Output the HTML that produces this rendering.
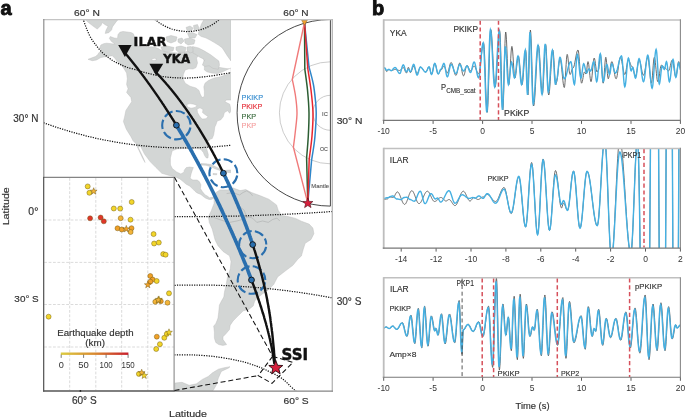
<!DOCTYPE html>
<html><head><meta charset="utf-8"><title>Figure</title>
<style>html,body{margin:0;padding:0;background:#fff;}svg{display:block;}text{font-family:"Liberation Sans", Arial, sans-serif;}</style>
</head><body>
<svg width="685" height="417" viewBox="0 0 685 417">
<rect width="685" height="417" fill="#fff"/>
<text x="0.6" y="14.6" font-size="20" text-anchor="start" font-weight="bold" fill="#111" stroke="#111" stroke-width="0.9">a</text>
<defs><clipPath id="mapclip"><rect x="43.5" y="19.5" width="289" height="371.5"/></clipPath><linearGradient id="cbar" x1="0" x2="1" y1="0" y2="0"><stop offset="0" stop-color="#dccc42"/><stop offset="0.5" stop-color="#d98a30"/><stop offset="1" stop-color="#c81e2c"/></linearGradient><clipPath id="c1"><rect x="383.7" y="19.9" width="296.7" height="100.5"/></clipPath><clipPath id="c2"><rect x="383.7" y="148.4" width="296.7" height="99.7"/></clipPath><clipPath id="c3"><rect x="383.7" y="277.8" width="296.7" height="99.5"/></clipPath></defs>
<g clip-path="url(#mapclip)">
<path d="M230.1,100 L226.2,100 L225,101.8 L227.4,103 L229.8,104.2 L231,110.2 L229.8,113.2 L227.4,110.8 L224.4,112.6 L223.2,116.8 L220.8,119.8 L217.2,121 L216,124.6 L214.8,127 L214.2,131.8 L213.6,135 L212.2,138.6 L210.4,139 L207.7,142 L206.8,145.9 L207,150 L208.3,154.5 L208,158 L206.4,158 L204.6,155.5 L203.4,152.5 L201,149.6 L199.8,149 L195,148.6 L189,148.4 L183,148.6 L177,149 L172.2,150.8 L171.6,153.2 L170.4,158 L170.4,162.8 L170.5,165 L172.3,168.6 L176.6,171.9 L180.9,174 L184.2,171.9 L184.2,170.2 L186.3,167.6 L189.6,167 L193.4,167.6 L192.3,170.2 L191.2,173.5 L190.1,178.3 L192.8,180 L197.1,180 L199.3,181.6 L200.9,184.8 L200.4,188.6 L202.5,191.8 L205.2,195 L207.4,196.1 L209.5,197.8 L212,197.3 L214.5,196.3 L214.2,198.3 L211,199.5 L209,199.4 L205.8,198.3 L203.6,196.7 L200.9,194.5 L197.1,192.9 L195,191.3 L192.8,189.1 L189.6,185.9 L186.3,184.3 L183.1,181.6 L179.9,178.9 L174.5,176.5 L169.5,175.5 L161.8,173.3 L156,167.6 L150.3,161.8 L144.5,154.1 L140.7,146.5 L138,147 L140.5,152 L144,159.5 L145,162.5 L142.5,158 L139,150.5 L135.9,143.6 L133,140.7 L131.1,136.9 L126.3,129.2 L123.4,121.5 L124.4,117.7 L125.9,110.4 L128.8,106 L131.7,101.7 L130.9,97.4 L126.6,92.4 L128.1,88.8 L126.6,84.5 L127.3,78.7 L126.6,73 L123,67.2 L116.7,60.7 L115.1,58.6 L112.3,55.7 L106.5,56.6 L100.8,57.5 L96.6,60 L92.3,60.7 L88,59.3 L92,57.8 L95.5,56.5 L97.9,54.5 L98.8,52.8 L101.7,50.9 L99.8,48 L100.8,45.1 L103.6,43.7 L106.5,43.2 L111.3,43.7 L115.1,44.2 L111.3,41.3 L109.4,38.4 L110.3,36.5 L114.2,38 L117.5,38.4 L118,34.6 L119.9,32.2 L123,31.5 L126.8,31.9 L131.1,32.6 L133.4,33.8 L135,38 L136,43 L138,46 L141.8,47.2 L147.2,47.6 L151.1,46.8 L154.9,47.2 L158.8,48.8 L161.1,50.3 L164.2,51.1 L170,52.5 L178,53 L185,52 L190,50.5 L194,52 L199,56 L204,60 L208,64 L212,66 L220,67.5 L226,68.5 L231,69 L235,69 L235,100 Z" fill="#d3d6d5" stroke="#b8b8b8" stroke-width="0.4"/>
<path d="M214.1,193.8 L219.9,189.9 L227.6,189.9 L233.3,188 L240,190.6 L245.8,189.6 L251.5,192.5 L259.2,195.3 L268.8,199.2 L276.5,204.9 L278.4,210.7 L282.2,215.5 L288,216.5 L295.6,218.4 L301.4,221.2 L309.1,224.1 L312.9,228 L313.9,233.7 L311,239.5 L305.2,243.3 L303.3,249.1 L301.4,256 L298,259 L292.9,265.3 L285.2,271.1 L277.6,276.9 L273.7,284.5 L268,290.3 L262.2,294.1 L257,298.5 L254.7,301 L253.2,306 L248.9,309.4 L243.2,310.8 L240.3,313.7 L237.4,316.6 L233.1,320.9 L230.2,325.2 L229.5,329.5 L225.9,333.8 L223,336.7 L223,339.6 L226.6,344.6 L223,345.4 L218.7,344.6 L215.8,342.5 L214.4,338.2 L214.4,332.4 L213.7,325.9 L215.8,323.8 L218,318 L218.7,312.3 L219.4,305.1 L221.6,300.8 L223.8,297 L224.5,291.8 L225.9,286 L227.4,277.4 L230.3,268.8 L231,261.6 L229.5,255.8 L223.1,251.5 L218,245.8 L215.1,240 L212.2,229 L209.3,222.6 L208.4,216.8 L211.2,211 L214.1,203.4 L214.1,196.5 Z" fill="#d3d6d5" stroke="#b8b8b8" stroke-width="0.4"/>
<path d="M175,383 L182,382.3 L189.2,385.3 L196.5,383.8 L202.3,379.4 L208.2,376.5 L212.5,372.8 L218.4,369.2 L224.2,367.7 L230,366.7 L228.6,368 L221.3,371.4 L218.4,378 L216.2,385.3 L212.5,391.5 L175,391.5 Z" fill="#d3d6d5" stroke="#b8b8b8" stroke-width="0.4"/>
<path d="M85.1,19.5 L89.4,23.3 L95.1,27.6 L97.3,29.1 L100.9,25.5 L102.3,22.6 L105.2,24.8 L108.1,26.2 L105.9,30.5 L105.2,33.4 L108.8,32.7 L111.7,29.8 L112.4,26.9 L116,21.9 L118.2,19.5 Z" fill="#d3d6d5" stroke="#b8b8b8" stroke-width="0.4"/>
<path d="M204,19.5 L231,19.5 L231,61 L229.9,59.5 L227.2,55.7 L224.5,51.4 L222.3,47.9 L218.8,45.3 L214.4,42.6 L210,40 L205.6,37.8 L201.3,36.5 L198.2,34.3 L199.5,29.5 L201.3,24.3 Z" fill="#d3d6d5" stroke="#b8b8b8" stroke-width="0.4"/>
<path d="M201,163.6 L206,163.8 L211,164.5 L214,166 L219,168.4 L222.5,169.8 L220,170.5 L215,168.8 L211,166.8 L206,165.3 L201,165 Z" fill="#d3d6d5" stroke="#b8b8b8" stroke-width="0.4"/>
<path d="M225.7,170.3 L230,170 L234.8,171.3 L233.5,172.8 L228,172.5 L225.5,171.6 Z" fill="#d3d6d5" stroke="#b8b8b8" stroke-width="0.4"/>
<path d="M213,173.5 L217,173.7 L216.5,174.8 L213,174.6 Z" fill="#d3d6d5" stroke="#b8b8b8" stroke-width="0.4"/>
<path d="M237,172 L239.5,172.2 L239.3,173 L237,172.9 Z" fill="#d3d6d5" stroke="#b8b8b8" stroke-width="0.4"/>
<path d="M182.8,78.4 L183.4,74.2 L185.2,70 L189,68.8 L193,69 L196,67.6 L197.5,63 L196.5,58 L199.6,54.4 L203.2,56.8 L204,61 L204.4,66 L204.4,70 L206.8,71.8 L211.6,73 L217.6,73.6 L222,72 L231,68 L231,72.5 L224,75.5 L218.8,77.2 L215.2,77.8 L211.6,79 L208,80.8 L205,83.2 L203.8,86.8 L204.4,91.6 L204.4,96.4 L202,97.6 L200.2,94 L199,90.4 L196,88 L190,86.2 L185.2,83.2 Z" fill="#fff" stroke="#b8b8b8" stroke-width="0.4"/>
<path d="M186.8,104.5 L190,103.6 L194,104.2 L197,105.5 L195,107.5 L191,108.2 L187.5,107 Z" fill="#fff" stroke="#b8b8b8" stroke-width="0.4"/>
<path d="M197,109 L200,107.8 L203,109.5 L202.5,112.5 L205,114.5 L208,116.5 L206,118.8 L202,119 L199.5,116 L197.5,112.5 Z" fill="#fff" stroke="#b8b8b8" stroke-width="0.4"/>
<path d="M152,58.8 L155,58.2 L157,59.5 L154,60.5 L151.5,60 Z" fill="#fff" stroke="#b8b8b8" stroke-width="0.4"/>
<path d="M209.3,216 L214,217.5 L219.4,219.5 L224,221 L229.5,222.4 L236.7,221 L242.4,219.5 L248.2,216.7 L252.5,218.1 L256.8,222.4 L262.6,221 L268.3,222.4 L272.6,219.5 L277,218.1 L279.8,221" fill="none" stroke="#a9abab" stroke-width="0.55"/>
<path d="M226.6,193.6 L230,193 L233.8,192.9 L239.5,195 L243,192.5 L246.7,190.8 L251,193.6 L252.5,195.8" fill="none" stroke="#a9abab" stroke-width="0.55"/>
<path d="M233.8,192.9 L234.5,198 L236,203 L240,207 L244,210 L246,215 L248.2,216.7" fill="none" stroke="#a9abab" stroke-width="0.55"/>
<path d="M192.5,46.5 L198.5,47.9 L203.7,50.6 L210.3,54.5 L215.6,58.5 L218.9,61.1 L219.5,65 L218.3,69.3 L213,68.4 L209,65.7 L205,66.4 L202.4,65.1 L203.7,61.8 L205,59.8 L199.8,57.2 L195.8,54.5 L193.2,53.2 L192,49.5 Z" fill="#d3d6d5" stroke="#b8b8b8" stroke-width="0.4"/>
<path d="M186,27.5 L190,26 L193,28 L191.5,31 L187.5,31.5 Z" fill="#d3d6d5" stroke="#b8b8b8" stroke-width="0.4"/>
<path d="M193.5,25.5 L197.5,24.5 L199,28 L196.5,31 L194,29.5 Z" fill="#d3d6d5" stroke="#b8b8b8" stroke-width="0.4"/>
<path d="M187.5,33.5 L192,32.5 L197,34.5 L195,38 L189.5,38 Z" fill="#d3d6d5" stroke="#b8b8b8" stroke-width="0.4"/>
<path d="M166,37 L171,35.5 L177,37 L176,41 L171,43 L167,41.5 Z" fill="#d3d6d5" stroke="#b8b8b8" stroke-width="0.4"/>
<path d="M178,39 L182,38 L184,41 L181,44 L178,42 Z" fill="#d3d6d5" stroke="#b8b8b8" stroke-width="0.4"/>
<path d="M184.5,39 L190,38 L195,40 L194,44 L188,45 L185,43 Z" fill="#d3d6d5" stroke="#b8b8b8" stroke-width="0.4"/>
<path d="M161,47 L167,46 L174,47.5 L173,51 L166,52 L162,50 Z" fill="#d3d6d5" stroke="#b8b8b8" stroke-width="0.4"/>
<path d="M176,47 L181,46 L186,47.5 L185,52 L179,52.6 L176,50 Z" fill="#d3d6d5" stroke="#b8b8b8" stroke-width="0.4"/>
<path d="M187,47 L191,46.5 L193,48 L193,52 L190,53 L187,50.5 Z" fill="#d3d6d5" stroke="#b8b8b8" stroke-width="0.4"/>
<path d="M82.9,18.5 C83.4,19.9 84.7,23.9 85.9,26.9 C87.1,29.8 88.4,33.3 89.9,36.2 C91.5,39.1 93.2,41.5 95.2,44.1 C97.2,46.7 99.3,49.6 101.7,52 C104.1,54.4 107.1,56.7 109.7,58.6 C112.3,60.5 114.8,61.8 117.6,63.2 C120.4,64.6 123.4,66 126.8,67.2 C130.2,68.4 134.9,69.4 138,70.3 C141.1,71.2 141.5,71.6 145.3,72.6 C149.1,73.6 155.6,75.3 160.7,76.2 C165.8,77.1 170.9,77.5 176,77.8 C181.1,78.1 186.2,78.1 191.3,77.9 C196.4,77.7 201.6,77.1 206.7,76.5 C211.8,75.9 217.9,74.9 222,74.2 C226.1,73.5 229.7,72.9 231.2,72.6" stroke="#111" stroke-width="1.25" stroke-dasharray="1.2 1.25" fill="none"/>
<path d="M153,17.5 L154.2,18.6 L155.3,19.7 L156.5,20.6 L157.7,21.6 L158.8,22.4 L160,23.2 L161.2,24 L162.4,24.7 L163.5,25.4 L164.7,26 L165.9,26.6 L167,27.1 L168.2,27.6 L169.4,28.1 L170.5,28.6 L171.7,29 L172.9,29.3 L174.1,29.7 L175.2,30 L176.4,30.3 L177.6,30.5 L178.7,30.7 L179.9,30.9 L181.1,31.1 L182.2,31.2 L183.4,31.3 L184.6,31.4 L185.7,31.5 L186.9,31.5 L188.1,31.5 L189.3,31.5 L190.4,31.4 L191.6,31.3 L192.8,31.2 L193.9,31.1 L195.1,30.9 L196.3,30.7 L197.4,30.4 L198.6,30.2 L199.8,29.9 L200.9,29.6 L202.1,29.2 L203.3,28.8 L204.5,28.4 L205.6,28 L206.8,27.5 L208,26.9 L209.1,26.4 L210.3,25.8 L211.5,25.1 L212.6,24.5 L213.8,23.7 L215,23 L216.2,22.1 L217.3,21.3 L218.5,20.3 L219.7,19.3 L220.8,18.3 L222,17.1" stroke="#111" stroke-width="1.25" stroke-dasharray="1.2 1.25" fill="none"/>
<path d="M43.5,122.7 L46.7,123.9 L49.9,125 L53.1,126.1 L56.2,127.2 L59.4,128.2 L62.6,129.2 L65.8,130.2 L69,131.2 L72.2,132.1 L75.4,133 L78.6,133.9 L81.7,134.7 L84.9,135.6 L88.1,136.4 L91.3,137.1 L94.5,137.9 L97.7,138.6 L100.9,139.2 L104,139.9 L107.2,140.5 L110.4,141.1 L113.6,141.7 L116.8,142.3 L120,142.8 L123.2,143.3 L126.3,143.8 L129.5,144.2 L132.7,144.6 L135.9,145 L139.1,145.4 L142.3,145.7 L145.5,146 L148.7,146.3 L151.8,146.6 L155,146.8 L158.2,147.1 L161.4,147.3 L164.6,147.4 L167.8,147.6 L171,147.7 L174.1,147.8 L177.3,147.8 L180.5,147.9 L183.7,147.9 L186.9,147.9 L190.1,147.9 L193.3,147.8 L196.4,147.7 L199.6,147.6 L202.8,147.5 L206,147.3 L209.2,147.1 L212.4,146.9 L215.6,146.7 L218.8,146.4 L221.9,146.1 L225.1,145.8 L228.3,145.5 L231.5,145.1" stroke="#111" stroke-width="1.25" stroke-dasharray="1.2 1.25" fill="none"/>
<path d="M174.5,216.6 L177.2,216.6 L179.8,216.6 L182.5,216.6 L185.2,216.6 L187.8,216.6 L190.5,216.6 L193.2,216.6 L195.9,216.6 L198.5,216.6 L201.2,216.6 L203.9,216.5 L206.5,216.5 L209.2,216.5 L211.9,216.5 L214.5,216.4 L217.2,216.4 L219.9,216.4 L222.6,216.3 L225.2,216.3 L227.9,216.2 L230.6,216.2 L233.2,216.1 L235.9,216 L238.6,216 L241.2,215.9 L243.9,215.8 L246.6,215.8 L249.2,215.7 L251.9,215.6 L254.6,215.5 L257.3,215.4 L259.9,215.3 L262.6,215.2 L265.3,215.1 L267.9,215 L270.6,214.9 L273.3,214.8 L275.9,214.7 L278.6,214.6 L281.3,214.5 L283.9,214.3 L286.6,214.2 L289.3,214.1 L292,214 L294.6,213.8 L297.3,213.7 L300,213.5 L302.6,213.4 L305.3,213.2 L308,213.1 L310.6,212.9 L313.3,212.8 L316,212.6 L318.7,212.4 L321.3,212.3 L324,212.1 L326.7,211.9 L329.3,211.7 L332,211.5" stroke="#111" stroke-width="1.25" stroke-dasharray="1.2 1.25" fill="none"/>
<path d="M174.5,285.3 L177.2,285.2 L179.8,285.2 L182.5,285.1 L185.2,285.1 L187.8,285 L190.5,285 L193.2,285 L195.9,285 L198.5,285 L201.2,285 L203.9,285 L206.5,285.1 L209.2,285.1 L211.9,285.2 L214.5,285.2 L217.2,285.3 L219.9,285.4 L222.6,285.5 L225.2,285.6 L227.9,285.7 L230.6,285.8 L233.2,286 L235.9,286.1 L238.6,286.3 L241.2,286.4 L243.9,286.6 L246.6,286.8 L249.2,287 L251.9,287.2 L254.6,287.4 L257.3,287.6 L259.9,287.8 L262.6,288.1 L265.3,288.3 L267.9,288.6 L270.6,288.9 L273.3,289.1 L275.9,289.4 L278.6,289.7 L281.3,290 L283.9,290.4 L286.6,290.7 L289.3,291 L292,291.4 L294.6,291.7 L297.3,292.1 L300,292.5 L302.6,292.9 L305.3,293.3 L308,293.7 L310.6,294.1 L313.3,294.5 L316,295 L318.7,295.4 L321.3,295.9 L324,296.4 L326.7,296.9 L329.3,297.3 L332,297.8" stroke="#111" stroke-width="1.25" stroke-dasharray="1.2 1.25" fill="none"/>
<path d="M174.5,354.9 C177.4,354.9 185.5,354.7 191.7,354.9 C197.8,355.1 204.8,355.5 211.4,356.2 C218,356.9 225.6,358.2 231.1,359.2 C236.6,360.2 240.1,361 244.3,362.1 C248.5,363.2 253,364.9 256.1,366 C259.2,367.1 260.6,367.4 263,368.5 C265.4,369.6 267.9,371 270.6,372.3 C273.3,373.6 276.5,375 279,376.5 C281.5,378 283.7,379.8 285.7,381.5 C287.7,383.2 289.2,385.1 290.8,386.6 C292.4,388.1 294.1,389.6 295,390.4 C295.9,391.2 295.8,391.3 296,391.5" stroke="#111" stroke-width="1.25" stroke-dasharray="1.2 1.25" fill="none"/>
</g>
<rect x="231" y="19.5" width="100" height="165" fill="#fff"/>
<path d="M330.4,19.5 A93.3,93.3 0 0 0 330.4,206.1 Z" fill="#fff"/>
<path d="M330.4,61.8 A51,51 0 0 0 330.4,163.8" fill="none" stroke="#aaa" stroke-width="0.6"/>
<path d="M330.4,95.3 A17.5,17.5 0 0 0 330.4,130.3" fill="none" stroke="#aaa" stroke-width="0.6"/>
<path d="M330.4,19.5 A93.3,93.3 0 0 0 330.4,206.1 L330.4,19.5" fill="none" stroke="#333" stroke-width="0.9"/>
<path d="M304.5,22.5 L309,67 C309.8,70 312.4,79 313.5,85 C314.6,91 315.2,98.3 315.7,103 C316.1,107.7 316.2,109.7 316.2,113 C316.2,116.3 316.2,118.3 315.9,123 C315.6,127.7 315.2,134.8 314.5,141 C313.8,147.2 312.1,156.9 311.6,160.1 L307.8,203.2" fill="none" stroke="#2f86c9" stroke-width="1.5"/>
<path d="M304.5,22.5 L304.8,68.8 C305.2,72.3 306.8,82.6 307.5,90 C308.2,97.4 308.9,105.3 309,113 C309.1,120.7 308.7,128.5 308.3,136 C307.9,143.5 306.9,154.2 306.6,157.9 L307.8,203.2" fill="none" stroke="#2c5e33" stroke-width="1.5"/>
<path d="M304.5,22.5 L307.8,68.5 C308.3,72.1 310.1,82.6 311,90 C311.9,97.4 312.8,105.3 313,113 C313.2,120.7 312.6,128.3 312,136 C311.4,143.7 309.7,155.2 309.2,159.1 L307.8,203.2" fill="none" stroke="#e8262e" stroke-width="1.5"/>
<path d="M304.5,22.5 L292.3,79.3 C292.8,82.1 294.7,90.4 295.5,96 C296.3,101.6 297,107.3 297,113 C297,118.7 296.1,124.3 295.5,130 C294.9,135.7 293.8,144.3 293.4,147.2 L307.8,203.2" fill="none" stroke="#f07a7a" stroke-width="1.4"/>
<path d="M301.6,20.3 L307.4,20.3 L304.5,25.3 Z" fill="#f0a030" stroke="#6a4a10" stroke-width="0.4"/>
<path d="M307.8,197.8 L309.1,201.4 L312.9,201.5 L310,203.9 L311,207.6 L307.8,205.5 L304.6,207.6 L305.6,203.9 L302.7,201.5 L306.5,201.4 Z" fill="#d61f3c" stroke="#4a0a14" stroke-width="0.6"/>
<text x="241.54" y="99.60" font-size="7.54" font-weight="normal" fill="#3a8fd0" stroke="#3a8fd0" stroke-width="0.14" textLength="21.63" lengthAdjust="spacingAndGlyphs">PKIKP</text>
<text x="241.54" y="108.90" font-size="7.40" font-weight="normal" fill="#e5303a" stroke="#e5303a" stroke-width="0.13" textLength="20.62" lengthAdjust="spacingAndGlyphs">PKiKP</text>
<text x="241.55" y="118.80" font-size="7.12" font-weight="normal" fill="#3a6b3e" stroke="#3a6b3e" stroke-width="0.13" textLength="14.60" lengthAdjust="spacingAndGlyphs">PKP</text>
<text x="241.55" y="128.30" font-size="7.12" font-weight="normal" fill="#f4a0a0" stroke="#f4a0a0" stroke-width="0.13" textLength="14.60" lengthAdjust="spacingAndGlyphs">PKP</text>
<text x="322.11" y="115.90" font-size="5.31" font-weight="normal" fill="#555" stroke="#555" stroke-width="0.10" textLength="5.77" lengthAdjust="spacingAndGlyphs">IC</text>
<text x="319.90" y="150.80" font-size="5.59" font-weight="normal" fill="#555" stroke="#555" stroke-width="0.10" textLength="7.99" lengthAdjust="spacingAndGlyphs">OC</text>
<text x="311.29" y="188.20" font-size="6.01" font-weight="normal" fill="#555" stroke="#555" stroke-width="0.11" textLength="17.72" lengthAdjust="spacingAndGlyphs">Mantle</text>
<line x1="43.2" y1="19.7" x2="332.9" y2="19.7" stroke="#c4c4c4" stroke-width="1.3"/>
<line x1="43.8" y1="19.1" x2="43.8" y2="391.8" stroke="#8f8f8f" stroke-width="1.2"/>
<line x1="332.3" y1="19.1" x2="332.3" y2="391.8" stroke="#b9b9b9" stroke-width="1.4"/>
<line x1="43.2" y1="391.2" x2="332.9" y2="391.2" stroke="#858585" stroke-width="1.3"/>
<circle cx="176.4" cy="125.2" r="14.2" fill="none" stroke="#2a6fae" stroke-width="2.1" stroke-dasharray="9.4 3.3" stroke-dashoffset="10.3"/>
<circle cx="223.4" cy="173.2" r="14" fill="none" stroke="#2a6fae" stroke-width="2.1" stroke-dasharray="9.4 3.3" stroke-dashoffset="10.3"/>
<circle cx="252.7" cy="244.6" r="13.6" fill="none" stroke="#2a6fae" stroke-width="2.1" stroke-dasharray="9.4 3.3" stroke-dashoffset="10.3"/>
<circle cx="251.5" cy="280.0" r="13.8" fill="none" stroke="#2a6fae" stroke-width="2.1" stroke-dasharray="9.4 3.3" stroke-dashoffset="10.3"/>
<path d="M123.4,51 L124.3,52 L125.1,53 L125.9,54 L126.7,55 L127.6,56 L128.4,57 L129.2,58 L130,59 L130.8,60 L131.6,61 L132.4,62 L133.2,63 L134,64 L134.8,65 L135.6,66 L136.4,67 L137.2,68 L137.9,69 L138.7,70.1 L139.5,71.1 L140.2,72.1 L141,73.1 L141.8,74.1 L142.5,75.1 L143.3,76.1 L144,77.1 L144.8,78.1 L145.5,79.1 L146.2,80.1 L147,81.1 L147.7,82.1 L148.4,83.1 L149.1,84.1 L149.9,85.1 L150.6,86.1 L151.3,87.1 L152,88.1 L152.7,89.1 L153.4,90.1 L154.1,91.1 L154.8,92.1 L155.5,93.1 L156.2,94.1 L156.9,95.1 L157.6,96.1 L158.3,97.1 L159,98.1 L159.6,99.1 L160.3,100.1 L161,101.1 L161.7,102.1 L162.3,103.1 L163,104.1 L163.7,105.1 L164.3,106.1 L165,107.2 L165.6,108.2 L166.3,109.2 L166.9,110.2 L167.6,111.2 L168.2,112.2 L168.9,113.2 L169.5,114.2 L170.1,115.2 L170.8,116.2 L171.4,117.2 L172,118.2 L172.7,119.2 L173.3,120.2 L173.9,121.2 L174.5,122.2 L175.1,123.2 L175.8,124.2 L176.4,125.2" fill="none" stroke="#111" stroke-width="2.4"/>
<path d="M154.6,71 L155.6,72 L156.6,73 L157.5,74 L158.5,75 L159.4,76 L160.3,77 L161.2,78 L162.1,79 L163,80 L163.9,81 L164.8,82 L165.7,83 L166.5,84 L167.4,85 L168.3,86 L169.1,87 L169.9,88 L170.8,89 L171.6,90 L172.4,91 L173.2,92 L174,93 L174.8,94 L175.6,95 L176.4,96 L177.2,97.1 L178,98.1 L178.7,99.1 L179.5,100.1 L180.2,101.1 L181,102.1 L181.7,103.1 L182.5,104.1 L183.2,105.1 L183.9,106.1 L184.6,107.1 L185.4,108.1 L186.1,109.1 L186.8,110.1 L187.5,111.1 L188.2,112.1 L188.9,113.1 L189.5,114.1 L190.2,115.1 L190.9,116.1 L191.6,117.1 L192.2,118.1 L192.9,119.1 L193.6,120.1 L194.2,121.1 L194.9,122.1 L195.5,123.1 L196.1,124.1 L196.8,125.1 L197.4,126.1 L198,127.1 L198.7,128.1 L199.3,129.1 L199.9,130.1 L200.5,131.1 L201.1,132.1 L201.7,133.1 L202.3,134.1 L202.9,135.1 L203.5,136.1 L204.1,137.1 L204.7,138.1 L205.3,139.1 L205.9,140.1 L206.5,141.1 L207,142.1 L207.6,143.1 L208.2,144.1 L208.7,145.1 L209.3,146.1 L209.9,147.1 L210.4,148.2 L211,149.2 L211.5,150.2 L212.1,151.2 L212.6,152.2 L213.2,153.2 L213.7,154.2 L214.2,155.2 L214.8,156.2 L215.3,157.2 L215.8,158.2 L216.4,159.2 L216.9,160.2 L217.4,161.2 L217.9,162.2 L218.4,163.2 L218.9,164.2 L219.5,165.2 L220,166.2 L220.5,167.2 L221,168.2 L221.5,169.2 L222,170.2 L222.5,171.2 L223,172.2 L223.4,173.2" fill="none" stroke="#111" stroke-width="2.4"/>
<path d="M251.5,280 L251.9,281 L252.3,282 L252.6,283 L253,284 L253.4,285 L253.7,286 L254.1,287 L254.5,288 L254.8,289 L255.2,290 L255.5,291 L255.9,292 L256.3,293 L256.6,294 L257,295 L257.3,296 L257.6,297 L258,298 L258.3,299 L258.7,300 L259,301 L259.3,302 L259.7,303 L260,304 L260.3,305 L260.6,306 L261,307 L261.3,308 L261.6,309 L261.9,310 L262.2,311 L262.5,312 L262.8,313 L263.2,314 L263.5,315 L263.8,316 L264.1,317 L264.3,318 L264.6,319 L264.9,320 L265.2,321 L265.5,322 L265.8,323 L266.1,324 L266.3,325 L266.6,326 L266.9,327 L267.1,328 L267.4,329 L267.7,330 L267.9,331 L268.2,332 L268.4,333 L268.7,334 L268.9,335 L269.2,336 L269.4,337 L269.6,338 L269.9,339 L270.1,340 L270.3,341 L270.5,342 L270.7,343 L271,344 L271.2,345 L271.4,346 L271.6,347 L271.8,348 L272,349 L272.2,350 L272.3,351 L272.5,352 L272.7,353 L272.9,354 L273,355 L273.2,356 L273.4,357 L273.5,358 L273.7,359 L273.8,360 L274,361 L274.1,362 L274.3,363 L274.4,364" fill="none" stroke="#111" stroke-width="2.4"/>
<path d="M252.7,244.6 L253,245.6 L253.4,246.6 L253.7,247.6 L254,248.6 L254.3,249.6 L254.7,250.6 L255,251.6 L255.3,252.6 L255.6,253.6 L255.9,254.6 L256.2,255.6 L256.5,256.6 L256.8,257.6 L257.1,258.6 L257.4,259.7 L257.7,260.7 L258,261.7 L258.3,262.7 L258.6,263.7 L258.9,264.7 L259.1,265.7 L259.4,266.7 L259.7,267.7 L260,268.7 L260.2,269.7 L260.5,270.7 L260.8,271.7 L261,272.7 L261.3,273.7 L261.5,274.7 L261.8,275.7 L262.1,276.7 L262.3,277.7 L262.6,278.7 L262.8,279.7 L263,280.7 L263.3,281.7 L263.5,282.7 L263.8,283.7 L264,284.7 L264.2,285.7 L264.4,286.7 L264.7,287.7 L264.9,288.7 L265.1,289.8 L265.3,290.8 L265.5,291.8 L265.8,292.8 L266,293.8 L266.2,294.8 L266.4,295.8 L266.6,296.8 L266.8,297.8 L267,298.8 L267.2,299.8 L267.3,300.8 L267.5,301.8 L267.7,302.8 L267.9,303.8 L268.1,304.8 L268.3,305.8 L268.4,306.8 L268.6,307.8 L268.8,308.8 L269,309.8 L269.1,310.8 L269.3,311.8 L269.4,312.8 L269.6,313.8 L269.8,314.8 L269.9,315.8 L270.1,316.8 L270.2,317.8 L270.4,318.8 L270.5,319.9 L270.6,320.9 L270.8,321.9 L270.9,322.9 L271.1,323.9 L271.2,324.9 L271.3,325.9 L271.4,326.9 L271.6,327.9 L271.7,328.9 L271.8,329.9 L271.9,330.9 L272.1,331.9 L272.2,332.9 L272.3,333.9 L272.4,334.9 L272.5,335.9 L272.6,336.9 L272.7,337.9 L272.8,338.9 L272.9,339.9 L273,340.9 L273.1,341.9 L273.2,342.9 L273.3,343.9 L273.4,344.9 L273.5,345.9 L273.6,346.9 L273.7,347.9 L273.8,348.9 L273.9,350 L274,351 L274,352 L274.1,353 L274.2,354 L274.3,355 L274.4,356 L274.4,357 L274.5,358 L274.6,359 L274.7,360 L274.7,361 L274.8,362 L274.9,363 L275,364" fill="none" stroke="#111" stroke-width="2.4"/>
<path d="M176.4,125.2 L177,126.2 L177.6,127.2 L178.2,128.2 L178.8,129.2 L179.4,130.2 L180,131.2 L180.6,132.2 L181.2,133.2 L181.8,134.2 L182.4,135.3 L183,136.3 L183.6,137.3 L184.2,138.3 L184.7,139.3 L185.3,140.3 L185.9,141.3 L186.5,142.3 L187.1,143.3 L187.6,144.3 L188.2,145.3 L188.8,146.3 L189.3,147.3 L189.9,148.3 L190.5,149.3 L191,150.3 L191.6,151.3 L192.2,152.3 L192.7,153.3 L193.3,154.4 L193.8,155.4 L194.4,156.4 L194.9,157.4 L195.5,158.4 L196,159.4 L196.6,160.4 L197.1,161.4 L197.7,162.4 L198.2,163.4 L198.7,164.4 L199.3,165.4 L199.8,166.4 L200.3,167.4 L200.9,168.4 L201.4,169.4 L201.9,170.4 L202.5,171.4 L203,172.4 L203.5,173.4 L204,174.5 L204.6,175.5 L205.1,176.5 L205.6,177.5 L206.1,178.5 L206.6,179.5 L207.1,180.5 L207.7,181.5 L208.2,182.5 L208.7,183.5 L209.2,184.5 L209.7,185.5 L210.2,186.5 L210.7,187.5 L211.2,188.5 L211.7,189.5 L212.2,190.5 L212.7,191.5 L213.2,192.5 L213.7,193.6 L214.2,194.6 L214.7,195.6 L215.2,196.6 L215.7,197.6 L216.2,198.6 L216.7,199.6 L217.1,200.6 L217.6,201.6 L218.1,202.6 L218.6,203.6 L219.1,204.6 L219.6,205.6 L220,206.6 L220.5,207.6 L221,208.6 L221.5,209.6 L221.9,210.6 L222.4,211.6 L222.9,212.7 L223.4,213.7 L223.8,214.7 L224.3,215.7 L224.8,216.7 L225.2,217.7 L225.7,218.7 L226.2,219.7 L226.6,220.7 L227.1,221.7 L227.5,222.7 L228,223.7 L228.5,224.7 L228.9,225.7 L229.4,226.7 L229.8,227.7 L230.3,228.7 L230.7,229.7 L231.2,230.7 L231.6,231.8 L232.1,232.8 L232.5,233.8 L233,234.8 L233.4,235.8 L233.8,236.8 L234.3,237.8 L234.7,238.8 L235.2,239.8 L235.6,240.8 L236,241.8 L236.5,242.8 L236.9,243.8 L237.3,244.8 L237.8,245.8 L238.2,246.8 L238.6,247.8 L239,248.8 L239.5,249.8 L239.9,250.8 L240.3,251.9 L240.7,252.9 L241.1,253.9 L241.6,254.9 L242,255.9 L242.4,256.9 L242.8,257.9 L243.2,258.9 L243.6,259.9 L244,260.9 L244.4,261.9 L244.9,262.9 L245.3,263.9 L245.7,264.9 L246.1,265.9 L246.5,266.9 L246.9,267.9 L247.3,268.9 L247.7,269.9 L248.1,271 L248.4,272 L248.8,273 L249.2,274 L249.6,275 L250,276 L250.4,277 L250.8,278 L251.1,279 L251.5,280" fill="none" stroke="#2a6fae" stroke-width="3.6"/>
<path d="M223.4,173.2 L223.9,174.2 L224.4,175.2 L224.9,176.2 L225.4,177.2 L225.9,178.2 L226.3,179.2 L226.8,180.2 L227.3,181.2 L227.8,182.3 L228.2,183.3 L228.7,184.3 L229.2,185.3 L229.6,186.3 L230.1,187.3 L230.6,188.3 L231,189.3 L231.5,190.3 L231.9,191.3 L232.4,192.3 L232.8,193.3 L233.3,194.3 L233.7,195.3 L234.1,196.3 L234.6,197.3 L235,198.3 L235.4,199.3 L235.9,200.4 L236.3,201.4 L236.7,202.4 L237.2,203.4 L237.6,204.4 L238,205.4 L238.4,206.4 L238.8,207.4 L239.3,208.4 L239.7,209.4 L240.1,210.4 L240.5,211.4 L240.9,212.4 L241.3,213.4 L241.7,214.4 L242.1,215.4 L242.5,216.4 L242.9,217.4 L243.3,218.5 L243.7,219.5 L244.1,220.5 L244.5,221.5 L244.8,222.5 L245.2,223.5 L245.6,224.5 L246,225.5 L246.4,226.5 L246.7,227.5 L247.1,228.5 L247.5,229.5 L247.8,230.5 L248.2,231.5 L248.6,232.5 L248.9,233.5 L249.3,234.5 L249.6,235.5 L250,236.6 L250.3,237.6 L250.7,238.6 L251,239.6 L251.4,240.6 L251.7,241.6 L252,242.6 L252.4,243.6 L252.7,244.6" fill="none" stroke="#2a6fae" stroke-width="3.6"/>
<circle cx="176.4" cy="125.2" r="2.9" fill="#2a6fae" stroke="#111" stroke-width="0.9"/>
<circle cx="223.4" cy="173.2" r="2.9" fill="#2a6fae" stroke="#111" stroke-width="0.9"/>
<circle cx="252.7" cy="244.6" r="2.9" fill="#2a6fae" stroke="#111" stroke-width="0.9"/>
<circle cx="251.5" cy="280.0" r="2.9" fill="#2a6fae" stroke="#111" stroke-width="0.9"/>
<path d="M118.2,45 L131.6,45 L124.9,57 Z" fill="#111"/>
<path d="M149.4,63.8 L163.2,63.8 L156.1,75.5 Z" fill="#111"/>
<text x="133.6" y="46.3" font-size="12.9" text-anchor="start" font-weight="bold" fill="#111" stroke="#111" stroke-width="0.45" style="font-family:'DejaVu Sans',sans-serif">ILAR</text>
<text x="163.3" y="63.1" font-size="11.8" text-anchor="start" font-weight="bold" fill="#111" stroke="#111" stroke-width="0.45" style="font-family:'DejaVu Sans',sans-serif">YKA</text>
<text x="281.5" y="360" font-size="15" text-anchor="start" font-weight="bold" fill="#111" stroke="#111" stroke-width="0.45" style="font-family:'DejaVu Sans',sans-serif">SSI</text>
<rect x="43.7" y="177.3" width="130.4" height="213.8" fill="#fff"/>
<line x1="69.7" y1="178" x2="69.7" y2="390.3" stroke="#cfcfcf" stroke-width="0.75" stroke-dasharray="2.8 1.6" fill="none"/>
<line x1="95.8" y1="178" x2="95.8" y2="390.3" stroke="#cfcfcf" stroke-width="0.75" stroke-dasharray="2.8 1.6" fill="none"/>
<line x1="121.7" y1="178" x2="121.7" y2="390.3" stroke="#cfcfcf" stroke-width="0.75" stroke-dasharray="2.8 1.6" fill="none"/>
<line x1="147.8" y1="178" x2="147.8" y2="390.3" stroke="#cfcfcf" stroke-width="0.75" stroke-dasharray="2.8 1.6" fill="none"/>
<line x1="44.2" y1="220" x2="174" y2="220" stroke="#cfcfcf" stroke-width="0.75" stroke-dasharray="2.8 1.6" fill="none"/>
<line x1="44.2" y1="262.4" x2="174" y2="262.4" stroke="#cfcfcf" stroke-width="0.75" stroke-dasharray="2.8 1.6" fill="none"/>
<line x1="44.2" y1="304.5" x2="174" y2="304.5" stroke="#cfcfcf" stroke-width="0.75" stroke-dasharray="2.8 1.6" fill="none"/>
<line x1="44.2" y1="347" x2="174" y2="347" stroke="#cfcfcf" stroke-width="0.75" stroke-dasharray="2.8 1.6" fill="none"/>
<circle cx="87.7" cy="186.4" r="2.5" fill="#f2d52a" stroke="#6b5410" stroke-width="0.45"/>
<circle cx="89.4" cy="192.8" r="2.5" fill="#f2d52a" stroke="#6b5410" stroke-width="0.45"/>
<circle cx="113.8" cy="208.5" r="2.5" fill="#f2d52a" stroke="#6b5410" stroke-width="0.45"/>
<circle cx="120.2" cy="208.6" r="2.5" fill="#f2d52a" stroke="#6b5410" stroke-width="0.45"/>
<circle cx="131.7" cy="202" r="2.5" fill="#f2d52a" stroke="#6b5410" stroke-width="0.45"/>
<circle cx="90.1" cy="218.3" r="2.5" fill="#e0362a" stroke="#6b5410" stroke-width="0.45"/>
<circle cx="100.6" cy="217.5" r="2.5" fill="#e0362a" stroke="#6b5410" stroke-width="0.45"/>
<circle cx="103.8" cy="221.3" r="2.5" fill="#e0362a" stroke="#6b5410" stroke-width="0.45"/>
<circle cx="120.7" cy="218.2" r="2.5" fill="#f3b43a" stroke="#6b5410" stroke-width="0.45"/>
<circle cx="130.5" cy="219.7" r="2.5" fill="#f2d52a" stroke="#6b5410" stroke-width="0.45"/>
<circle cx="117.5" cy="228.3" r="2.5" fill="#f0a028" stroke="#6b5410" stroke-width="0.45"/>
<circle cx="121.8" cy="229.5" r="2.5" fill="#f0a028" stroke="#6b5410" stroke-width="0.45"/>
<circle cx="131.5" cy="228.2" r="2.5" fill="#f0a028" stroke="#6b5410" stroke-width="0.45"/>
<circle cx="130.6" cy="232" r="2.5" fill="#f3b43a" stroke="#6b5410" stroke-width="0.45"/>
<circle cx="153.6" cy="234.1" r="2.5" fill="#f2d52a" stroke="#6b5410" stroke-width="0.45"/>
<circle cx="154.1" cy="243.5" r="2.5" fill="#f2d52a" stroke="#6b5410" stroke-width="0.45"/>
<circle cx="158.8" cy="242.6" r="2.5" fill="#f2d52a" stroke="#6b5410" stroke-width="0.45"/>
<circle cx="163.2" cy="254.1" r="2.5" fill="#f2d52a" stroke="#6b5410" stroke-width="0.45"/>
<circle cx="165.6" cy="254.7" r="2.5" fill="#f2d52a" stroke="#6b5410" stroke-width="0.45"/>
<circle cx="150.3" cy="276" r="2.5" fill="#f0a028" stroke="#6b5410" stroke-width="0.45"/>
<circle cx="152.7" cy="279.6" r="2.5" fill="#f0a028" stroke="#6b5410" stroke-width="0.45"/>
<circle cx="150.3" cy="281.7" r="2.5" fill="#f0a028" stroke="#6b5410" stroke-width="0.45"/>
<circle cx="156.7" cy="281" r="2.5" fill="#f2d52a" stroke="#6b5410" stroke-width="0.45"/>
<circle cx="169" cy="293.3" r="2.5" fill="#f2d52a" stroke="#6b5410" stroke-width="0.45"/>
<circle cx="155.3" cy="301.8" r="2.5" fill="#f3b43a" stroke="#6b5410" stroke-width="0.45"/>
<circle cx="160.8" cy="301.2" r="2.5" fill="#f0a028" stroke="#6b5410" stroke-width="0.45"/>
<circle cx="167.5" cy="302.7" r="2.5" fill="#f3b43a" stroke="#6b5410" stroke-width="0.45"/>
<circle cx="156.8" cy="336.7" r="2.5" fill="#f0a028" stroke="#6b5410" stroke-width="0.45"/>
<circle cx="164.3" cy="337.8" r="2.5" fill="#f2d52a" stroke="#6b5410" stroke-width="0.45"/>
<circle cx="159.9" cy="344.2" r="2.5" fill="#f2d52a" stroke="#6b5410" stroke-width="0.45"/>
<circle cx="156.2" cy="349" r="2.5" fill="#f2d52a" stroke="#6b5410" stroke-width="0.45"/>
<circle cx="138.9" cy="373.9" r="2.5" fill="#f2d52a" stroke="#6b5410" stroke-width="0.45"/>
<circle cx="48.6" cy="316.7" r="2.5" fill="#f2d52a" stroke="#6b5410" stroke-width="0.45"/>
<circle cx="166.8" cy="333.9" r="2.5" fill="#f2d52a" stroke="#6b5410" stroke-width="0.45"/>
<path d="M93.7,187.7 L94.6,190.1 L97.1,190.2 L95.1,191.8 L95.8,194.2 L93.7,192.8 L91.6,194.2 L92.3,191.8 L90.3,190.2 L92.8,190.1 Z" fill="#f3b43a" stroke="#6b5410" stroke-width="0.45"/>
<path d="M126.3,225.4 L127.2,227.8 L129.7,227.9 L127.7,229.5 L128.4,231.9 L126.3,230.5 L124.2,231.9 L124.9,229.5 L122.9,227.9 L125.4,227.8 Z" fill="#f0a028" stroke="#6b5410" stroke-width="0.45"/>
<path d="M147.8,281.3 L148.7,283.7 L151.2,283.8 L149.2,285.4 L149.9,287.8 L147.8,286.4 L145.7,287.8 L146.4,285.4 L144.4,283.8 L146.9,283.7 Z" fill="#f0a028" stroke="#6b5410" stroke-width="0.45"/>
<path d="M158.9,295.9 L159.8,298.3 L162.3,298.4 L160.3,300 L161,302.4 L158.9,301 L156.8,302.4 L157.5,300 L155.5,298.4 L158,298.3 Z" fill="#f2d52a" stroke="#6b5410" stroke-width="0.45"/>
<path d="M158.2,296.5 L159.1,298.9 L161.6,299 L159.6,300.6 L160.3,303 L158.2,301.6 L156.1,303 L156.8,300.6 L154.8,299 L157.3,298.9 Z" fill="#f3b43a" stroke="#6b5410" stroke-width="0.45"/>
<path d="M169,328.8 L169.9,331.2 L172.4,331.3 L170.4,332.9 L171.1,335.3 L169,333.9 L166.9,335.3 L167.6,332.9 L165.6,331.3 L168.1,331.2 Z" fill="#f2d52a" stroke="#6b5410" stroke-width="0.45"/>
<path d="M141.7,369.2 L142.6,371.6 L145.1,371.7 L143.1,373.3 L143.8,375.7 L141.7,374.3 L139.6,375.7 L140.3,373.3 L138.3,371.7 L140.8,371.6 Z" fill="#f3b43a" stroke="#6b5410" stroke-width="0.45"/>
<path d="M144.2,372 L145.1,374.4 L147.6,374.5 L145.6,376.1 L146.3,378.5 L144.2,377.1 L142.1,378.5 L142.8,376.1 L140.8,374.5 L143.3,374.4 Z" fill="#f2d52a" stroke="#6b5410" stroke-width="0.45"/>
<text x="57.26" y="336.40" font-size="9.78" font-weight="normal" fill="#333" stroke="#333" stroke-width="0.18" textLength="76.28" lengthAdjust="spacingAndGlyphs">Earthquake depth</text>
<text x="85.29" y="345.70" font-size="8.94" font-weight="normal" fill="#333" stroke="#333" stroke-width="0.16" textLength="19.63" lengthAdjust="spacingAndGlyphs">(km)</text>
<rect x="60.8" y="352.5" width="67.6" height="2.4" fill="url(#cbar)"/>
<line x1="61.2" y1="354.6" x2="61.2" y2="357.9" stroke="#444" stroke-width="0.7"/>
<text x="61.2" y="367.9" font-size="8.5" text-anchor="middle" font-weight="normal" fill="#333" textLength="5.1" lengthAdjust="spacingAndGlyphs">0</text>
<line x1="83.6" y1="354.6" x2="83.6" y2="357.9" stroke="#444" stroke-width="0.7"/>
<text x="83.6" y="367.9" font-size="8.5" text-anchor="middle" font-weight="normal" fill="#333" textLength="10.6" lengthAdjust="spacingAndGlyphs">50</text>
<line x1="106.1" y1="354.6" x2="106.1" y2="357.9" stroke="#444" stroke-width="0.7"/>
<text x="106.1" y="367.9" font-size="8.5" text-anchor="middle" font-weight="normal" fill="#333" textLength="13.2" lengthAdjust="spacingAndGlyphs">100</text>
<line x1="128.1" y1="354.6" x2="128.1" y2="357.9" stroke="#444" stroke-width="0.7"/>
<text x="128.1" y="367.9" font-size="8.5" text-anchor="middle" font-weight="normal" fill="#333" textLength="13.2" lengthAdjust="spacingAndGlyphs">150</text>
<line x1="43.2" y1="177.3" x2="174.6" y2="177.3" stroke="#555" stroke-width="0.9"/>
<line x1="174.1" y1="177" x2="174.1" y2="391.5" stroke="#888" stroke-width="1.1"/>
<line x1="43.7" y1="177" x2="43.7" y2="391.5" stroke="#555" stroke-width="1.2"/>
<line x1="43.2" y1="390.9" x2="174.6" y2="390.9" stroke="#555" stroke-width="1.3"/>
<circle cx="80.4" cy="390.9" r="0.9" fill="#222"/>
<path d="M174.5,177.3 L272.6,356.4" stroke="#111" stroke-width="1.05" stroke-dasharray="5 2.8" fill="none"/>
<path d="M174.5,390.5 L258.2,375.6" stroke="#111" stroke-width="1.05" stroke-dasharray="5 2.8" fill="none"/>
<path d="M272.6,356.4 L293,362.4 L272,383.4 L258.2,375.6 Z" stroke="#111" stroke-width="1.05" stroke-dasharray="5 2.8" fill="none"/>
<path d="M275.8,360.4 L277.6,365.3 L282.8,365.5 L278.8,368.8 L280.1,373.8 L275.8,370.9 L271.5,373.8 L272.8,368.8 L268.8,365.5 L274,365.3 Z" fill="#d61f3c" stroke="#2a0a10" stroke-width="0.9"/>
<text x="74.07" y="15.70" font-size="9.36" font-weight="normal" fill="#333" stroke="#333" stroke-width="0.17" textLength="25.76" lengthAdjust="spacingAndGlyphs">60° N</text>
<text x="283.36" y="15.80" font-size="9.64" font-weight="normal" fill="#333" stroke="#333" stroke-width="0.17" textLength="25.27" lengthAdjust="spacingAndGlyphs">60° N</text>
<text x="13.34" y="122.00" font-size="10.34" font-weight="normal" fill="#333" stroke="#333" stroke-width="0.19" textLength="25.02" lengthAdjust="spacingAndGlyphs">30° N</text>
<text x="336.65" y="124.10" font-size="9.92" font-weight="normal" fill="#333" stroke="#333" stroke-width="0.18" textLength="25.89" lengthAdjust="spacingAndGlyphs">30° N</text>
<text x="28.35" y="215.00" font-size="10.06" font-weight="normal" fill="#333" stroke="#333" stroke-width="0.18" textLength="10.00" lengthAdjust="spacingAndGlyphs">0°</text>
<text x="14.36" y="302.10" font-size="9.78" font-weight="normal" fill="#333" stroke="#333" stroke-width="0.18" textLength="24.38" lengthAdjust="spacingAndGlyphs">30° S</text>
<text x="336.65" y="305.30" font-size="10.06" font-weight="normal" fill="#333" stroke="#333" stroke-width="0.18" textLength="24.80" lengthAdjust="spacingAndGlyphs">30° S</text>
<text x="71.94" y="403.80" font-size="10.34" font-weight="normal" fill="#333" stroke="#333" stroke-width="0.19" textLength="24.72" lengthAdjust="spacingAndGlyphs">60° S</text>
<text x="283.48" y="403.90" font-size="9.22" font-weight="normal" fill="#333" stroke="#333" stroke-width="0.17" textLength="25.25" lengthAdjust="spacingAndGlyphs">60° S</text>
<text x="168.96" y="416.60" font-size="9.78" font-weight="normal" fill="#333" stroke="#333" stroke-width="0.18" textLength="38.08" lengthAdjust="spacingAndGlyphs">Latitude</text>
<g transform="translate(8.75,225) rotate(-90)"><text x="-0.35" y="0.00" font-size="9.92" font-weight="normal" fill="#333" stroke="#333" stroke-width="0.18" textLength="38.19" lengthAdjust="spacingAndGlyphs">Latitude</text></g>
<text x="372" y="14.8" font-size="20" text-anchor="start" font-weight="bold" fill="#111" stroke="#111" stroke-width="0.9">b</text>
<line x1="383.7" y1="120.4" x2="383.7" y2="123.9" stroke="#555" stroke-width="0.95"/>
<text x="383.7" y="134.1" font-size="8.5" text-anchor="middle" font-weight="normal" fill="#333" >-10</text>
<line x1="433.1" y1="120.4" x2="433.1" y2="123.9" stroke="#555" stroke-width="0.95"/>
<text x="433.1" y="134.1" font-size="8.5" text-anchor="middle" font-weight="normal" fill="#333" >-5</text>
<line x1="482.6" y1="120.4" x2="482.6" y2="123.9" stroke="#555" stroke-width="0.95"/>
<text x="482.6" y="134.1" font-size="8.5" text-anchor="middle" font-weight="normal" fill="#333" >0</text>
<line x1="532" y1="120.4" x2="532" y2="123.9" stroke="#555" stroke-width="0.95"/>
<text x="532" y="134.1" font-size="8.5" text-anchor="middle" font-weight="normal" fill="#333" >5</text>
<line x1="581.5" y1="120.4" x2="581.5" y2="123.9" stroke="#555" stroke-width="0.95"/>
<text x="581.5" y="134.1" font-size="8.5" text-anchor="middle" font-weight="normal" fill="#333" >10</text>
<line x1="631" y1="120.4" x2="631" y2="123.9" stroke="#555" stroke-width="0.95"/>
<text x="631" y="134.1" font-size="8.5" text-anchor="middle" font-weight="normal" fill="#333" >15</text>
<line x1="680.4" y1="120.4" x2="680.4" y2="123.9" stroke="#555" stroke-width="0.95"/>
<text x="680.4" y="134.1" font-size="8.5" text-anchor="middle" font-weight="normal" fill="#333" >20</text>
<line x1="401.2" y1="248.1" x2="401.2" y2="251.6" stroke="#555" stroke-width="0.95"/>
<text x="401.2" y="261.8" font-size="8.5" text-anchor="middle" font-weight="normal" fill="#333" >-14</text>
<line x1="436.1" y1="248.1" x2="436.1" y2="251.6" stroke="#555" stroke-width="0.95"/>
<text x="436.1" y="261.8" font-size="8.5" text-anchor="middle" font-weight="normal" fill="#333" >-12</text>
<line x1="471" y1="248.1" x2="471" y2="251.6" stroke="#555" stroke-width="0.95"/>
<text x="471" y="261.8" font-size="8.5" text-anchor="middle" font-weight="normal" fill="#333" >-10</text>
<line x1="505.9" y1="248.1" x2="505.9" y2="251.6" stroke="#555" stroke-width="0.95"/>
<text x="505.9" y="261.8" font-size="8.5" text-anchor="middle" font-weight="normal" fill="#333" >-8</text>
<line x1="540.8" y1="248.1" x2="540.8" y2="251.6" stroke="#555" stroke-width="0.95"/>
<text x="540.8" y="261.8" font-size="8.5" text-anchor="middle" font-weight="normal" fill="#333" >-6</text>
<line x1="575.7" y1="248.1" x2="575.7" y2="251.6" stroke="#555" stroke-width="0.95"/>
<text x="575.7" y="261.8" font-size="8.5" text-anchor="middle" font-weight="normal" fill="#333" >-4</text>
<line x1="610.6" y1="248.1" x2="610.6" y2="251.6" stroke="#555" stroke-width="0.95"/>
<text x="610.6" y="261.8" font-size="8.5" text-anchor="middle" font-weight="normal" fill="#333" >-2</text>
<line x1="645.5" y1="248.1" x2="645.5" y2="251.6" stroke="#555" stroke-width="0.95"/>
<text x="645.5" y="261.8" font-size="8.5" text-anchor="middle" font-weight="normal" fill="#333" >0</text>
<line x1="680.4" y1="248.1" x2="680.4" y2="251.6" stroke="#555" stroke-width="0.95"/>
<text x="680.4" y="261.8" font-size="8.5" text-anchor="middle" font-weight="normal" fill="#333" >2</text>
<line x1="383.7" y1="377.3" x2="383.7" y2="380.8" stroke="#555" stroke-width="0.95"/>
<text x="383.7" y="391" font-size="8.5" text-anchor="middle" font-weight="normal" fill="#333" >-10</text>
<line x1="433.1" y1="377.3" x2="433.1" y2="380.8" stroke="#555" stroke-width="0.95"/>
<text x="433.1" y="391" font-size="8.5" text-anchor="middle" font-weight="normal" fill="#333" >-5</text>
<line x1="482.6" y1="377.3" x2="482.6" y2="380.8" stroke="#555" stroke-width="0.95"/>
<text x="482.6" y="391" font-size="8.5" text-anchor="middle" font-weight="normal" fill="#333" >0</text>
<line x1="532" y1="377.3" x2="532" y2="380.8" stroke="#555" stroke-width="0.95"/>
<text x="532" y="391" font-size="8.5" text-anchor="middle" font-weight="normal" fill="#333" >5</text>
<line x1="581.5" y1="377.3" x2="581.5" y2="380.8" stroke="#555" stroke-width="0.95"/>
<text x="581.5" y="391" font-size="8.5" text-anchor="middle" font-weight="normal" fill="#333" >10</text>
<line x1="631" y1="377.3" x2="631" y2="380.8" stroke="#555" stroke-width="0.95"/>
<text x="631" y="391" font-size="8.5" text-anchor="middle" font-weight="normal" fill="#333" >15</text>
<line x1="680.4" y1="377.3" x2="680.4" y2="380.8" stroke="#555" stroke-width="0.95"/>
<text x="680.4" y="391" font-size="8.5" text-anchor="middle" font-weight="normal" fill="#333" >20</text>
<g clip-path="url(#c1)"><path d="M383.70,69.00 384.05,68.40 384.40,67.80 384.80,68.05 385.20,68.72 385.60,69.65 386.00,70.58 386.40,71.25 386.80,71.50 387.20,71.30 387.60,70.77 388.00,70.13 388.40,69.60 388.80,69.40 389.20,69.48 389.60,69.70 390.00,70.00 390.40,70.30 390.80,70.52 391.20,70.60 391.58,70.57 391.96,70.49 392.34,70.37 392.72,70.22 393.10,70.05 393.48,69.88 393.86,69.73 394.24,69.61 394.62,69.53 395.00,69.50 395.37,69.51 395.74,69.56 396.11,69.63 396.48,69.72 396.85,69.82 397.22,69.94 397.58,70.06 397.95,70.18 398.32,70.28 398.69,70.37 399.06,70.44 399.43,70.49 399.80,70.50 400.18,70.41 400.56,70.15 400.93,69.75 401.31,69.26 401.69,68.74 402.07,68.25 402.44,67.85 402.82,67.59 403.20,67.50 403.57,67.67 403.93,68.14 404.30,68.88 404.67,69.77 405.03,70.73 405.40,71.62 405.77,72.36 406.13,72.83 406.50,73.00 406.88,72.46 407.26,71.03 407.64,69.27 408.02,67.84 408.40,67.30 408.80,67.81 409.20,69.13 409.60,70.77 410.00,72.09 410.40,72.60 410.77,72.41 411.13,71.86 411.50,71.02 411.87,70.00 412.23,68.90 412.60,67.88 412.97,67.04 413.33,66.49 413.70,66.30 414.08,66.52 414.46,67.14 414.83,68.10 415.21,69.27 415.59,70.53 415.97,71.70 416.34,72.66 416.72,73.28 417.10,73.50 417.47,73.31 417.83,72.75 418.20,71.90 418.57,70.86 418.93,69.74 419.30,68.70 419.67,67.85 420.03,67.29 420.40,67.10 420.75,67.15 421.11,67.32 421.46,67.58 421.81,67.93 422.17,68.35 422.52,68.83 422.87,69.34 423.23,69.86 423.58,70.37 423.93,70.85 424.29,71.27 424.64,71.62 424.99,71.88 425.35,72.05 425.70,72.10 426.08,71.94 426.46,71.48 426.83,70.77 427.21,69.91 427.59,68.99 427.97,68.12 428.34,67.42 428.72,66.96 429.10,66.80 429.50,67.32 429.90,68.72 430.30,70.65 430.70,72.58 431.10,73.98 431.50,74.50 431.87,74.17 432.23,73.20 432.60,71.72 432.97,69.91 433.33,67.99 433.70,66.17 434.07,64.70 434.43,63.73 434.80,63.40 435.18,63.72 435.56,64.64 435.93,66.05 436.31,67.78 436.69,69.62 437.07,71.35 437.44,72.76 437.82,73.68 438.20,74.00 438.55,73.85 438.90,73.41 439.25,72.77 439.60,72.00 439.95,71.23 440.30,70.59 440.65,70.15 441.00,70.00 441.36,69.85 441.73,69.41 442.09,68.77 442.45,68.00 442.81,67.23 443.17,66.59 443.54,66.15 443.90,66.00 444.28,66.21 444.66,66.82 445.03,67.75 445.41,68.89 445.79,70.11 446.17,71.25 446.54,72.18 446.92,72.79 447.30,73.00 447.68,72.74 448.06,72.00 448.44,70.84 448.82,69.37 449.20,67.75 449.58,66.13 449.96,64.66 450.34,63.50 450.72,62.76 451.10,62.50 451.47,62.69 451.84,63.24 452.21,64.12 452.58,65.29 452.95,66.66 453.32,68.17 453.68,69.73 454.05,71.24 454.42,72.61 454.79,73.78 455.16,74.66 455.53,75.21 455.90,75.40 456.25,75.15 456.61,74.42 456.96,73.26 457.32,71.78 457.67,70.08 458.03,68.32 458.38,66.62 458.74,65.14 459.09,63.98 459.45,63.25 459.80,63.00 460.17,63.32 460.54,64.23 460.91,65.66 461.28,67.46 461.65,69.45 462.02,71.44 462.39,73.24 462.76,74.67 463.13,75.58 463.50,75.90 463.85,75.64 464.20,74.90 464.55,73.74 464.90,72.27 465.25,70.65 465.60,69.03 465.95,67.56 466.30,66.40 466.65,65.66 467.00,65.40 467.35,65.54 467.70,65.93 468.05,66.55 468.40,67.33 468.75,68.20 469.10,69.07 469.45,69.85 469.80,70.47 470.15,70.86 470.50,71.00 470.86,70.88 471.22,70.52 471.58,69.97 471.94,69.27 472.30,68.50 472.66,67.73 473.02,67.03 473.38,66.48 473.74,66.12 474.10,66.00 474.48,66.14 474.85,66.54 475.23,67.17 475.60,68.00 475.98,68.96 476.35,70.00 476.73,71.04 477.10,72.00 477.48,72.83 477.85,73.46 478.23,73.86 478.60,74.00 478.96,73.61 479.31,72.46 479.67,70.60 480.03,68.13 480.39,65.17 480.74,61.87 481.10,58.40 481.46,54.93 481.81,51.63 482.17,48.67 482.53,46.20 482.89,44.34 483.24,43.19 483.60,42.80 483.96,44.50 484.32,49.44 484.68,57.12 485.04,66.81 485.40,77.55 485.76,88.29 486.12,97.98 486.48,105.66 486.84,110.60 487.20,112.30 487.56,110.28 487.92,104.40 488.28,95.25 488.64,83.73 489.00,70.95 489.36,58.17 489.72,46.65 490.08,37.50 490.44,31.62 490.80,29.60 491.16,30.58 491.52,33.45 491.87,38.02 492.23,43.97 492.59,50.91 492.95,58.35 493.31,65.79 493.67,72.72 494.02,78.68 494.38,83.25 494.74,86.12 495.10,87.10 495.45,86.28 495.81,83.88 496.16,80.02 496.52,74.94 496.87,68.93 497.22,62.34 497.58,55.56 497.93,48.97 498.28,42.96 498.64,37.88 498.99,34.02 499.35,31.62 499.70,30.80 500.09,33.81 500.47,42.40 500.86,55.25 501.25,70.40 501.64,85.55 502.02,98.40 502.41,106.99 502.80,110.00 503.16,107.03 503.52,98.58 503.89,85.92 504.25,71.00 504.61,56.08 504.97,43.42 505.34,34.97 505.70,32.00 506.09,34.01 506.47,39.72 506.86,48.27 507.25,58.35 507.64,68.43 508.02,76.98 508.41,82.69 508.80,84.70 509.19,83.24 509.57,79.09 509.96,72.88 510.35,65.55 510.74,58.22 511.12,52.01 511.51,47.86 511.90,46.40 512.27,47.60 512.65,51.03 513.02,56.15 513.40,62.20 513.77,68.25 514.15,73.37 514.52,76.80 514.90,78.00 515.25,77.46 515.60,75.90 515.95,73.47 516.30,70.40 516.65,67.00 517.00,63.60 517.35,60.53 517.70,58.10 518.05,56.54 518.40,56.00 518.76,56.70 519.12,58.74 519.48,61.92 519.84,65.92 520.20,70.35 520.56,74.78 520.92,78.78 521.28,81.96 521.64,84.00 522.00,84.70 522.37,83.85 522.74,81.39 523.11,77.55 523.48,72.71 523.85,67.35 524.22,61.99 524.59,57.15 524.96,53.31 525.33,50.85 525.70,50.00 526.07,53.01 526.43,61.25 526.80,72.50 527.17,83.75 527.53,91.99 527.90,95.00 528.26,91.78 528.61,82.76 528.97,69.73 529.33,55.27 529.69,42.24 530.04,33.22 530.40,30.00 530.76,32.29 531.11,38.89 531.47,49.00 531.82,61.40 532.18,74.60 532.53,87.00 532.89,97.11 533.24,103.71 533.60,106.00 533.97,105.12 534.34,102.52 534.71,98.35 535.08,92.87 535.45,86.38 535.82,79.26 536.18,71.94 536.55,64.82 536.92,58.33 537.29,52.85 537.66,48.68 538.03,46.08 538.40,45.20 538.76,46.19 539.13,49.10 539.49,53.67 539.85,59.55 540.22,66.26 540.58,73.24 540.95,79.95 541.31,85.83 541.67,90.40 542.04,93.31 542.40,94.30 542.76,92.78 543.11,88.42 543.47,81.72 543.82,73.52 544.18,64.78 544.53,56.58 544.89,49.88 545.24,45.52 545.60,44.00 545.99,45.94 546.38,51.47 546.76,59.74 547.15,69.50 547.54,79.26 547.92,87.53 548.31,93.06 548.70,95.00 549.07,94.09 549.45,91.43 549.82,87.23 550.19,81.85 550.56,75.70 550.94,69.30 551.31,63.15 551.68,57.77 552.05,53.57 552.43,50.91 552.80,50.00 553.19,51.32 553.57,55.08 553.96,60.71 554.35,67.35 554.74,73.99 555.12,79.62 555.51,83.38 555.90,84.70 556.20,83.35 556.50,82.00 556.85,81.43 557.20,79.78 557.55,77.20 557.90,73.95 558.25,70.35 558.60,66.75 558.95,63.50 559.30,60.92 559.65,59.27 560.00,58.70 560.36,59.19 560.72,60.63 561.08,62.92 561.43,65.90 561.79,69.37 562.15,73.10 562.51,76.83 562.87,80.30 563.22,83.28 563.58,85.57 563.94,87.01 564.30,87.50 564.66,86.24 565.02,82.65 565.39,77.28 565.75,70.95 566.11,64.62 566.48,59.25 566.84,55.66 567.20,54.40 567.60,55.40 568.00,58.18 568.40,62.21 568.80,66.69 569.20,70.72 569.60,73.50 570.00,74.50 570.38,74.25 570.75,73.55 571.12,72.49 571.50,71.25 571.88,70.01 572.25,68.95 572.62,68.25 573.00,68.00 573.36,67.77 573.71,67.11 574.07,66.04 574.43,64.61 574.79,62.90 575.14,61.00 575.50,59.00 575.86,57.00 576.21,55.10 576.57,53.39 576.93,51.96 577.29,50.89 577.64,50.23 578.00,50.00 578.36,50.81 578.72,53.17 579.08,56.84 579.44,61.47 579.80,66.60 580.16,71.73 580.52,76.36 580.88,80.03 581.24,82.39 581.60,83.20 581.96,82.77 582.33,81.56 582.69,79.74 583.05,77.60 583.41,75.46 583.77,73.64 584.14,72.43 584.50,72.00 584.88,72.29 585.25,73.00 585.62,73.71 586.00,74.00 586.40,72.82 586.80,69.72 587.20,65.88 587.60,62.78 588.00,61.60 588.38,62.37 588.75,64.54 589.12,67.80 589.50,71.65 589.88,75.50 590.25,78.76 590.62,80.93 591.00,81.70 591.36,80.99 591.71,78.93 592.07,75.78 592.42,71.91 592.78,67.79 593.13,63.93 593.49,60.77 593.84,58.71 594.20,58.00 594.60,58.69 595.00,60.64 595.40,63.44 595.80,66.56 596.20,69.36 596.60,71.31 597.00,72.00 597.38,71.71 597.75,71.00 598.12,70.29 598.50,70.00 598.86,68.51 599.22,64.61 599.58,59.79 599.94,55.89 600.30,54.40 600.66,55.50 601.02,58.62 601.39,63.29 601.75,68.80 602.11,74.31 602.48,78.98 602.84,82.10 603.20,83.20 603.57,81.92 603.94,78.32 604.31,73.13 604.69,67.37 605.06,62.18 605.43,58.58 605.80,57.30 606.20,58.74 606.60,62.67 607.00,68.05 607.40,73.42 607.80,77.36 608.20,78.80 608.56,78.38 608.92,77.16 609.28,75.25 609.64,72.86 610.00,70.20 610.36,67.54 610.72,65.15 611.08,63.24 611.44,62.02 611.80,61.60 612.16,61.89 612.52,62.75 612.88,64.12 613.23,65.90 613.59,67.97 613.95,70.20 614.31,72.43 614.67,74.50 615.02,76.28 615.38,77.65 615.74,78.51 616.10,78.80 616.46,78.43 616.82,77.36 617.17,75.65 617.53,73.42 617.89,70.83 618.25,68.05 618.61,65.27 618.97,62.67 619.33,60.45 619.68,58.74 620.04,57.67 620.40,57.30 620.77,57.59 621.13,58.45 621.50,59.82 621.87,61.60 622.23,63.67 622.60,65.90 622.97,68.13 623.33,70.20 623.70,71.98 624.07,73.35 624.43,74.21 624.80,74.50 625.16,74.15 625.52,73.12 625.88,71.53 626.24,69.52 626.60,67.30 626.96,65.08 627.32,63.07 627.68,61.48 628.04,60.45 628.40,60.10 628.76,60.26 629.12,60.72 629.48,61.44 629.84,62.35 630.20,63.35 630.56,64.35 630.92,65.26 631.28,65.98 631.64,66.44 632.00,66.60 632.35,66.83 632.70,67.50 633.05,68.54 633.40,69.85 633.75,71.30 634.10,72.75 634.45,74.06 634.80,75.10 635.15,75.77 635.50,76.00 635.86,75.61 636.22,74.48 636.58,72.72 636.94,70.51 637.30,68.05 637.66,65.59 638.02,63.38 638.38,61.62 638.74,60.49 639.10,60.10 639.47,60.36 639.83,61.12 640.20,62.33 640.57,63.90 640.93,65.73 641.30,67.70 641.67,69.67 642.03,71.50 642.40,73.07 642.77,74.28 643.13,75.04 643.50,75.30 643.86,74.99 644.22,74.09 644.58,72.66 644.93,70.80 645.29,68.63 645.65,66.30 646.01,63.97 646.37,61.80 646.72,59.94 647.08,58.51 647.44,57.61 647.80,57.30 648.16,57.93 648.52,59.77 648.88,62.64 649.24,66.25 649.60,70.25 649.96,74.25 650.32,77.86 650.68,80.73 651.04,82.57 651.40,83.20 651.76,82.21 652.12,79.41 652.49,75.21 652.85,70.25 653.21,65.29 653.57,61.09 653.94,58.29 654.30,57.30 654.65,57.90 655.00,59.63 655.35,62.33 655.70,65.73 656.05,69.50 656.40,73.27 656.75,76.67 657.10,79.37 657.45,81.10 657.80,81.70 658.16,81.30 658.52,80.12 658.88,78.30 659.24,76.00 659.60,73.45 659.96,70.90 660.32,68.60 660.68,66.78 661.04,65.60 661.40,65.20 661.76,65.27 662.12,65.47 662.48,65.78 662.84,66.17 663.20,66.60 663.56,67.03 663.92,67.42 664.28,67.73 664.64,67.93 665.00,68.00 665.36,68.07 665.72,68.28 666.08,68.60 666.44,69.00 666.80,69.45 667.16,69.90 667.52,70.30 667.88,70.62 668.24,70.83 668.60,70.90 668.96,70.64 669.32,69.87 669.68,68.67 670.04,67.17 670.40,65.50 670.76,63.83 671.12,62.33 671.48,61.13 671.84,60.36 672.20,60.10 672.56,60.51 672.92,61.69 673.28,63.52 673.64,65.84 674.00,68.40 674.36,70.96 674.72,73.28 675.08,75.11 675.44,76.29 675.80,76.70 676.16,76.13 676.52,74.49 676.89,72.04 677.25,69.15 677.61,66.26 677.98,63.81 678.34,62.17 678.70,61.60 679.08,62.21 679.46,63.81 679.84,65.79 680.22,67.39 680.60,68.00" fill="none" stroke="#5a5a5a" stroke-width="0.9"/><path d="M383.70,69.00 384.05,68.40 384.40,67.80 384.80,67.96 385.20,68.40 385.60,69.00 386.00,69.60 386.40,70.04 386.80,70.20 387.20,70.12 387.60,69.92 388.00,69.68 388.40,69.48 388.80,69.40 389.20,69.48 389.60,69.70 390.00,70.00 390.40,70.30 390.80,70.52 391.20,70.60 391.58,70.52 391.96,70.30 392.34,69.96 392.72,69.53 393.10,69.05 393.48,68.57 393.86,68.14 394.24,67.80 394.62,67.58 395.00,67.50 395.37,67.59 395.74,67.84 396.11,68.25 396.48,68.80 396.85,69.44 397.22,70.14 397.58,70.86 397.95,71.56 398.32,72.20 398.69,72.75 399.06,73.16 399.43,73.41 399.80,73.50 400.18,73.24 400.56,72.49 400.93,71.35 401.31,69.95 401.69,68.45 402.07,67.05 402.44,65.91 402.82,65.16 403.20,64.90 403.57,65.10 403.93,65.68 404.30,66.58 404.67,67.67 405.03,68.83 405.40,69.92 405.77,70.82 406.13,71.40 406.50,71.60 406.88,71.37 407.26,70.77 407.64,70.03 408.02,69.43 408.40,69.20 408.80,69.43 409.20,70.03 409.60,70.77 410.00,71.37 410.40,71.60 410.77,71.38 411.13,70.76 411.50,69.80 411.87,68.63 412.23,67.37 412.60,66.20 412.97,65.24 413.33,64.62 413.70,64.40 414.08,64.72 414.46,65.65 414.83,67.08 415.21,68.82 415.59,70.68 415.97,72.42 416.34,73.85 416.72,74.78 417.10,75.10 417.47,74.86 417.83,74.16 418.20,73.10 418.57,71.79 418.93,70.41 419.30,69.10 419.67,68.04 420.03,67.34 420.40,67.10 420.75,67.15 421.11,67.32 421.46,67.58 421.81,67.93 422.17,68.35 422.52,68.83 422.87,69.34 423.23,69.86 423.58,70.37 423.93,70.85 424.29,71.27 424.64,71.62 424.99,71.88 425.35,72.05 425.70,72.10 426.08,71.94 426.46,71.48 426.83,70.77 427.21,69.91 427.59,68.99 427.97,68.12 428.34,67.42 428.72,66.96 429.10,66.80 429.50,67.32 429.90,68.72 430.30,70.65 430.70,72.58 431.10,73.98 431.50,74.50 431.87,74.17 432.23,73.20 432.60,71.72 432.97,69.91 433.33,67.99 433.70,66.17 434.07,64.70 434.43,63.73 434.80,63.40 435.18,63.72 435.56,64.64 435.93,66.05 436.31,67.78 436.69,69.62 437.07,71.35 437.44,72.76 437.82,73.68 438.20,74.00 438.55,73.81 438.90,73.27 439.25,72.46 439.60,71.50 439.95,70.54 440.30,69.73 440.65,69.19 441.00,69.00 441.36,68.79 441.73,68.18 442.09,67.27 442.45,66.20 442.81,65.13 443.17,64.22 443.54,63.61 443.90,63.40 444.28,63.81 444.66,64.98 445.03,66.78 445.41,68.98 445.79,71.32 446.17,73.53 446.54,75.32 446.92,76.49 447.30,76.90 447.68,76.59 448.06,75.71 448.44,74.32 448.82,72.58 449.20,70.65 449.58,68.72 449.96,66.98 450.34,65.59 450.72,64.71 451.10,64.40 451.47,64.53 451.84,64.92 452.21,65.54 452.58,66.37 452.95,67.34 453.32,68.40 453.68,69.50 454.05,70.56 454.42,71.53 454.79,72.36 455.16,72.98 455.53,73.37 455.90,73.50 456.25,73.32 456.61,72.79 456.96,71.95 457.32,70.87 457.67,69.64 458.03,68.36 458.38,67.13 458.74,66.05 459.09,65.21 459.45,64.68 459.80,64.50 460.17,64.66 460.54,65.12 460.91,65.84 461.28,66.75 461.65,67.75 462.02,68.75 462.39,69.66 462.76,70.38 463.13,70.84 463.50,71.00 463.85,70.88 464.20,70.52 464.55,69.97 464.90,69.27 465.25,68.50 465.60,67.73 465.95,67.03 466.30,66.48 466.65,66.12 467.00,66.00 467.35,66.16 467.70,66.62 468.05,67.34 468.40,68.25 468.75,69.25 469.10,70.25 469.45,71.16 469.80,71.88 470.15,72.34 470.50,72.50 470.86,72.24 471.22,71.50 471.58,70.34 471.94,68.87 472.30,67.25 472.66,65.63 473.02,64.16 473.38,63.00 473.74,62.26 474.10,62.00 474.48,62.27 474.85,63.06 475.23,64.31 475.60,65.95 475.98,67.86 476.35,69.90 476.73,71.94 477.10,73.85 477.48,75.49 477.85,76.74 478.23,77.53 478.60,77.80 478.95,77.29 479.31,75.80 479.66,73.40 480.02,70.24 480.37,66.51 480.72,62.41 481.08,58.19 481.43,54.09 481.78,50.36 482.14,47.20 482.49,44.80 482.85,43.31 483.20,42.80 483.56,44.50 483.92,49.44 484.28,57.12 484.64,66.81 485.00,77.55 485.36,88.29 485.72,97.98 486.08,105.66 486.44,110.60 486.80,112.30 487.16,110.28 487.52,104.40 487.88,95.25 488.24,83.73 488.60,70.95 488.96,58.17 489.32,46.65 489.68,37.50 490.04,31.62 490.40,29.60 490.76,30.58 491.12,33.45 491.47,38.02 491.83,43.97 492.19,50.91 492.55,58.35 492.91,65.79 493.27,72.72 493.62,78.68 493.98,83.25 494.34,86.12 494.70,87.10 495.05,86.28 495.41,83.88 495.76,80.02 496.12,74.94 496.47,68.93 496.82,62.34 497.18,55.56 497.53,48.97 497.88,42.96 498.24,37.88 498.59,34.02 498.95,31.62 499.30,30.80 499.69,33.81 500.07,42.40 500.46,55.25 500.85,70.40 501.24,85.55 501.62,98.40 502.01,106.99 502.40,110.00 502.76,107.58 503.12,100.69 503.49,90.37 503.85,78.20 504.21,66.03 504.57,55.71 504.94,48.82 505.30,46.40 505.69,47.86 506.07,52.01 506.46,58.22 506.85,65.55 507.24,72.88 507.62,79.09 508.01,83.24 508.40,84.70 508.79,83.84 509.17,81.38 509.56,77.69 509.95,73.35 510.34,69.01 510.73,65.32 511.11,62.86 511.50,62.00 511.88,62.61 512.25,64.34 512.62,66.94 513.00,70.00 513.38,73.06 513.75,75.66 514.12,77.39 514.50,78.00 514.85,77.46 515.20,75.90 515.55,73.47 515.90,70.40 516.25,67.00 516.60,63.60 516.95,60.53 517.30,58.10 517.65,56.54 518.00,56.00 518.36,56.70 518.72,58.74 519.08,61.92 519.44,65.92 519.80,70.35 520.16,74.78 520.52,78.78 520.88,81.96 521.24,84.00 521.60,84.70 521.97,83.85 522.34,81.39 522.71,77.55 523.08,72.71 523.45,67.35 523.82,61.99 524.19,57.15 524.56,53.31 524.93,50.85 525.30,50.00 525.67,53.01 526.03,61.25 526.40,72.50 526.77,83.75 527.13,91.99 527.50,95.00 527.86,91.88 528.21,83.14 528.57,70.51 528.93,56.49 529.29,43.86 529.64,35.12 530.00,32.00 530.36,34.17 530.71,40.42 531.07,50.00 531.42,61.75 531.78,74.25 532.13,86.00 532.49,95.58 532.84,101.83 533.20,104.00 533.57,103.15 533.94,100.63 534.31,96.61 534.68,91.30 535.05,85.03 535.42,78.14 535.78,71.06 536.15,64.17 536.52,57.90 536.89,52.59 537.26,48.57 537.63,46.05 538.00,45.20 538.36,46.19 538.73,49.10 539.09,53.67 539.45,59.55 539.82,66.26 540.18,73.24 540.55,79.95 540.91,85.83 541.27,90.40 541.64,93.31 542.00,94.30 542.36,92.78 542.71,88.42 543.07,81.72 543.42,73.52 543.78,64.78 544.13,56.58 544.49,49.88 544.84,45.52 545.20,44.00 545.59,45.83 545.98,51.03 546.36,58.82 546.75,68.00 547.14,77.18 547.52,84.97 547.91,90.17 548.30,92.00 548.67,91.15 549.05,88.67 549.42,84.75 549.79,79.72 550.16,73.99 550.54,68.01 550.91,62.28 551.28,57.25 551.65,53.33 552.03,50.85 552.40,50.00 552.79,51.32 553.17,55.08 553.56,60.71 553.95,67.35 554.34,73.99 554.73,79.62 555.11,83.38 555.50,84.70 556.00,82.35 556.50,80.00 556.85,79.44 557.20,77.83 557.55,75.32 557.90,72.16 558.25,68.65 558.60,65.14 558.95,61.98 559.30,59.47 559.65,57.86 560.00,57.30 560.36,57.67 560.72,58.74 561.08,60.45 561.43,62.67 561.79,65.27 562.15,68.05 562.51,70.83 562.87,73.42 563.22,75.65 563.58,77.36 563.94,78.43 564.30,78.80 564.66,78.67 565.02,78.28 565.38,77.65 565.74,76.79 566.11,75.73 566.47,74.50 566.83,73.14 567.19,71.69 567.55,70.20 567.91,68.71 568.27,67.26 568.63,65.90 568.99,64.67 569.36,63.61 569.72,62.75 570.08,62.12 570.44,61.73 570.80,61.60 571.16,62.16 571.52,63.80 571.88,66.34 572.24,69.55 572.60,73.10 572.96,76.65 573.32,79.86 573.68,82.40 574.04,84.04 574.40,84.60 574.76,83.45 575.12,80.18 575.49,75.28 575.85,69.50 576.21,63.72 576.57,58.82 576.94,55.55 577.30,54.40 577.66,54.98 578.02,56.66 578.38,59.28 578.74,62.59 579.10,66.25 579.46,69.91 579.82,73.22 580.18,75.84 580.54,77.52 580.90,78.10 581.25,77.55 581.60,75.99 581.95,73.66 582.30,70.90 582.65,68.14 583.00,65.81 583.35,64.25 583.70,63.70 584.06,64.06 584.43,65.08 584.79,66.60 585.15,68.40 585.51,70.20 585.88,71.72 586.24,72.74 586.60,73.10 586.97,72.81 587.33,72.02 587.70,70.95 588.07,69.88 588.43,69.09 588.80,68.80 589.22,69.12 589.65,69.90 590.08,70.68 590.50,71.00 590.87,70.72 591.23,69.90 591.60,68.65 591.97,67.12 592.33,65.48 592.70,63.95 593.07,62.70 593.43,61.88 593.80,61.60 594.16,62.37 594.52,64.54 594.89,67.80 595.25,71.65 595.61,75.50 595.98,78.76 596.34,80.93 596.70,81.70 597.06,81.01 597.42,79.03 597.78,75.93 598.14,72.03 598.50,67.70 598.86,63.37 599.22,59.47 599.58,56.37 599.94,54.39 600.30,53.70 600.66,54.77 601.02,57.80 601.39,62.34 601.75,67.70 602.11,73.06 602.48,77.60 602.84,80.63 603.20,81.70 603.56,81.28 603.92,80.06 604.28,78.15 604.64,75.76 605.00,73.10 605.36,70.44 605.72,68.05 606.08,66.14 606.44,64.92 606.80,64.50 607.15,64.88 607.50,65.96 607.85,67.59 608.20,69.50 608.55,71.41 608.90,73.04 609.25,74.12 609.60,74.50 609.97,73.78 610.33,71.80 610.70,69.10 611.07,66.40 611.43,64.42 611.80,63.70 612.16,63.93 612.52,64.60 612.88,65.64 613.24,66.95 613.60,68.40 613.96,69.85 614.32,71.16 614.68,72.20 615.04,72.87 615.40,73.10 615.76,72.95 616.12,72.52 616.48,71.82 616.84,70.87 617.19,69.70 617.55,68.36 617.91,66.89 618.27,65.34 618.63,63.76 618.99,62.21 619.35,60.74 619.71,59.40 620.06,58.23 620.42,57.28 620.78,56.58 621.14,56.15 621.50,56.00 621.87,56.93 622.23,59.60 622.60,63.70 622.97,68.73 623.33,74.07 623.70,79.10 624.07,83.20 624.43,85.87 624.80,86.80 625.16,86.10 625.52,84.05 625.88,80.86 626.24,76.85 626.60,72.40 626.96,67.95 627.32,63.94 627.68,60.75 628.04,58.70 628.40,58.00 628.75,58.49 629.10,59.89 629.45,61.98 629.80,64.45 630.15,66.92 630.50,69.01 630.85,70.41 631.20,70.90 631.58,70.37 631.95,69.10 632.33,67.83 632.70,67.30 633.10,67.83 633.50,69.33 633.90,71.50 634.30,73.90 634.70,76.07 635.10,77.57 635.50,78.10 635.86,77.63 636.22,76.25 636.58,74.10 636.94,71.40 637.30,68.40 637.66,65.40 638.02,62.70 638.38,60.55 638.74,59.17 639.10,58.70 639.47,59.09 639.83,60.24 640.20,62.07 640.57,64.45 640.93,67.22 641.30,70.20 641.67,73.18 642.03,75.95 642.40,78.33 642.77,80.16 643.13,81.31 643.50,81.70 643.86,81.25 644.22,79.92 644.58,77.80 644.93,75.05 645.29,71.84 645.65,68.40 646.01,64.96 646.37,61.75 646.72,59.00 647.08,56.88 647.44,55.55 647.80,55.10 648.16,55.66 648.52,57.32 648.88,59.95 649.23,63.38 649.59,67.37 649.95,71.65 650.31,75.93 650.67,79.92 651.02,83.35 651.38,85.98 651.74,87.64 652.10,88.20 652.46,87.41 652.83,85.12 653.19,81.50 653.55,76.86 653.92,71.56 654.28,66.04 654.65,60.74 655.01,56.10 655.37,52.48 655.74,50.19 656.10,49.40 656.46,50.44 656.81,53.44 657.17,58.02 657.52,63.65 657.88,69.65 658.23,75.28 658.59,79.86 658.94,82.86 659.30,83.90 659.66,83.21 660.02,81.26 660.39,78.34 660.75,74.90 661.11,71.46 661.48,68.54 661.84,66.59 662.20,65.90 662.62,66.24 663.04,67.14 663.46,68.26 663.88,69.16 664.30,69.50 664.67,68.97 665.03,67.53 665.40,65.55 665.77,63.58 666.13,62.13 666.50,61.60 666.86,62.37 667.23,64.54 667.59,67.80 667.95,71.65 668.31,75.50 668.67,78.76 669.04,80.93 669.40,81.70 669.76,81.15 670.12,79.57 670.48,77.10 670.84,74.00 671.20,70.55 671.56,67.10 671.92,64.00 672.28,61.53 672.64,59.95 673.00,59.40 673.40,60.29 673.80,62.79 674.20,66.40 674.60,70.40 675.00,74.01 675.40,76.51 675.80,77.40 676.16,76.85 676.52,75.29 676.89,72.96 677.25,70.20 677.61,67.44 677.98,65.11 678.34,63.55 678.70,63.00 679.08,63.67 679.46,65.42 679.84,67.58 680.22,69.33 680.60,70.00" fill="none" stroke="#45b0e2" stroke-width="1.4"/></g>
<g clip-path="url(#c2)"><path d="M383.70,199.60 384.07,199.58 384.43,199.53 384.80,199.45 385.17,199.35 385.53,199.25 385.90,199.15 386.27,199.07 386.63,199.02 387.00,199.00 387.38,198.92 387.75,198.71 388.12,198.38 388.50,198.00 388.88,197.62 389.25,197.29 389.62,197.08 390.00,197.00 390.38,197.02 390.75,197.07 391.12,197.15 391.50,197.25 391.88,197.35 392.25,197.43 392.62,197.48 393.00,197.50 393.37,197.40 393.73,197.12 394.10,196.68 394.47,196.10 394.83,195.42 395.20,194.70 395.57,193.98 395.93,193.30 396.30,192.72 396.67,192.28 397.03,192.00 397.40,191.90 397.76,191.98 398.12,192.21 398.48,192.58 398.84,193.09 399.20,193.73 399.56,194.48 399.92,195.31 400.28,196.22 400.64,197.17 401.00,198.15 401.36,199.13 401.72,200.08 402.08,200.99 402.44,201.82 402.80,202.57 403.16,203.21 403.52,203.72 403.88,204.09 404.24,204.32 404.60,204.40 404.96,204.32 405.32,204.06 405.68,203.65 406.04,203.09 406.40,202.39 406.76,201.58 407.12,200.66 407.48,199.67 407.84,198.62 408.20,197.55 408.56,196.48 408.92,195.43 409.28,194.44 409.64,193.52 410.00,192.71 410.36,192.01 410.72,191.45 411.08,191.04 411.44,190.78 411.80,190.70 412.16,190.78 412.52,191.02 412.88,191.40 413.24,191.93 413.60,192.59 413.96,193.36 414.32,194.22 414.68,195.16 415.04,196.14 415.40,197.15 415.76,198.16 416.12,199.14 416.48,200.08 416.84,200.94 417.20,201.71 417.56,202.37 417.92,202.90 418.28,203.28 418.64,203.52 419.00,203.60 419.37,203.54 419.73,203.37 420.10,203.09 420.46,202.70 420.83,202.21 421.19,201.63 421.56,200.98 421.92,200.25 422.29,199.48 422.65,198.66 423.02,197.82 423.38,196.98 423.75,196.14 424.11,195.32 424.48,194.55 424.84,193.82 425.21,193.17 425.57,192.59 425.94,192.10 426.30,191.71 426.67,191.43 427.03,191.26 427.40,191.20 427.75,191.26 428.11,191.45 428.46,191.76 428.82,192.18 429.17,192.71 429.53,193.32 429.88,194.01 430.24,194.76 430.59,195.54 430.95,196.35 431.31,197.16 431.66,197.94 432.01,198.69 432.37,199.38 432.73,199.99 433.08,200.52 433.44,200.94 433.79,201.25 434.14,201.44 434.50,201.50 434.86,201.47 435.22,201.38 435.58,201.23 435.94,201.03 436.31,200.79 436.67,200.50 437.03,200.18 437.39,199.85 437.75,199.50 438.11,199.15 438.47,198.82 438.83,198.50 439.19,198.21 439.56,197.97 439.92,197.77 440.28,197.62 440.64,197.53 441.00,197.50 441.36,197.54 441.71,197.67 442.07,197.88 442.43,198.16 442.79,198.49 443.14,198.86 443.50,199.25 443.86,199.64 444.21,200.01 444.57,200.34 444.93,200.62 445.29,200.83 445.64,200.96 446.00,201.00 446.38,200.94 446.75,200.78 447.12,200.54 447.50,200.25 447.88,199.96 448.25,199.72 448.62,199.56 449.00,199.50 449.35,199.55 449.71,199.71 450.06,199.96 450.41,200.30 450.76,200.71 451.12,201.19 451.47,201.72 451.82,202.27 452.18,202.83 452.53,203.38 452.88,203.91 453.24,204.39 453.59,204.80 453.94,205.14 454.29,205.39 454.65,205.55 455.00,205.60 455.36,205.53 455.72,205.33 456.08,205.00 456.44,204.55 456.80,203.99 457.17,203.31 457.53,202.55 457.89,201.71 458.25,200.81 458.61,199.86 458.97,198.89 459.33,197.91 459.69,196.94 460.05,195.99 460.41,195.09 460.77,194.25 461.13,193.49 461.50,192.81 461.86,192.25 462.22,191.80 462.58,191.47 462.94,191.27 463.30,191.20 463.65,191.27 464.01,191.47 464.36,191.79 464.71,192.23 465.06,192.78 465.42,193.42 465.77,194.13 466.12,194.90 466.47,195.70 466.83,196.50 467.18,197.30 467.53,198.07 467.88,198.78 468.24,199.42 468.59,199.97 468.94,200.41 469.29,200.73 469.65,200.93 470.00,201.00 470.36,200.93 470.73,200.72 471.09,200.40 471.45,199.98 471.82,199.50 472.18,199.00 472.55,198.52 472.91,198.10 473.27,197.78 473.64,197.57 474.00,197.50 474.36,197.54 474.73,197.66 475.09,197.85 475.45,198.08 475.82,198.36 476.18,198.64 476.55,198.92 476.91,199.15 477.27,199.34 477.64,199.46 478.00,199.50 478.36,199.47 478.71,199.38 479.07,199.23 479.43,199.03 479.79,198.79 480.14,198.53 480.50,198.25 480.86,197.97 481.21,197.71 481.57,197.47 481.93,197.27 482.29,197.12 482.64,197.03 483.00,197.00 483.38,196.95 483.76,196.80 484.15,196.57 484.53,196.27 484.91,195.93 485.29,195.57 485.67,195.23 486.05,194.93 486.44,194.70 486.82,194.55 487.20,194.50 487.55,194.53 487.90,194.62 488.25,194.77 488.60,194.97 488.95,195.22 489.30,195.53 489.65,195.87 490.00,196.25 490.35,196.66 490.70,197.09 491.05,197.54 491.40,198.00 491.75,198.46 492.10,198.91 492.45,199.34 492.80,199.75 493.15,200.13 493.50,200.47 493.85,200.78 494.20,201.03 494.55,201.23 494.90,201.38 495.25,201.47 495.60,201.50 495.97,201.43 496.33,201.24 496.70,200.92 497.06,200.48 497.43,199.93 497.79,199.28 498.16,198.54 498.52,197.72 498.89,196.84 499.25,195.92 499.62,194.98 499.98,194.02 500.35,193.08 500.71,192.16 501.08,191.28 501.44,190.46 501.81,189.72 502.17,189.07 502.54,188.52 502.90,188.08 503.27,187.76 503.63,187.57 504.00,187.50 504.36,187.66 504.72,188.14 505.08,188.92 505.44,189.98 505.80,191.31 506.16,192.86 506.52,194.60 506.88,196.48 507.24,198.47 507.60,200.50 507.96,202.53 508.32,204.52 508.68,206.40 509.04,208.14 509.40,209.69 509.76,211.02 510.12,212.08 510.48,212.86 510.84,213.34 511.20,213.50 511.56,213.30 511.92,212.69 512.29,211.69 512.65,210.33 513.01,208.63 513.37,206.63 513.73,204.38 514.10,201.92 514.46,199.31 514.82,196.61 515.18,193.89 515.54,191.19 515.90,188.58 516.27,186.12 516.63,183.87 516.99,181.87 517.35,180.17 517.71,178.81 518.08,177.81 518.44,177.20 518.80,177.00 519.16,177.34 519.52,178.35 519.87,180.01 520.23,182.27 520.59,185.07 520.95,188.33 521.31,191.96 521.66,195.86 522.02,199.94 522.38,204.06 522.74,208.14 523.09,212.04 523.45,215.67 523.81,218.93 524.17,221.73 524.53,223.99 524.88,225.65 525.24,226.66 525.60,227.00 525.95,226.45 526.31,224.82 526.66,222.17 527.01,218.58 527.36,214.18 527.72,209.13 528.07,203.58 528.42,197.73 528.78,191.77 529.13,185.92 529.48,180.37 529.84,175.32 530.19,170.92 530.54,167.33 530.89,164.68 531.25,163.05 531.60,162.50 531.95,163.11 532.31,164.91 532.66,167.85 533.01,171.83 533.36,176.71 533.72,182.31 534.07,188.47 534.42,194.95 534.78,201.55 535.13,208.03 535.48,214.19 535.84,219.79 536.19,224.67 536.54,228.65 536.89,231.59 537.25,233.39 537.60,234.00 537.97,233.18 538.33,230.76 538.70,226.84 539.07,221.59 539.43,215.25 539.80,208.09 540.17,200.42 540.53,192.58 540.90,184.91 541.27,177.75 541.63,171.41 542.00,166.16 542.37,162.24 542.73,159.82 543.10,159.00 543.46,159.54 543.81,161.16 544.17,163.79 544.52,167.36 544.88,171.77 545.23,176.88 545.59,182.52 545.94,188.54 546.30,194.75 546.66,200.96 547.01,206.98 547.37,212.62 547.72,217.73 548.08,222.14 548.43,225.71 548.79,228.34 549.14,229.96 549.50,230.50 549.85,229.99 550.21,228.47 550.56,226.01 550.91,222.67 551.26,218.58 551.62,213.87 551.97,208.71 552.32,203.27 552.68,197.73 553.03,192.29 553.38,187.13 553.74,182.42 554.09,178.33 554.44,174.99 554.79,172.53 555.15,171.01 555.50,170.50 555.85,170.82 556.21,171.77 556.56,173.31 556.91,175.39 557.26,177.95 557.62,180.89 557.97,184.12 558.32,187.52 558.68,190.98 559.03,194.38 559.38,197.61 559.74,200.55 560.09,203.11 560.44,205.19 560.79,206.73 561.15,207.68 561.50,208.00 561.90,207.52 562.30,206.27 562.70,204.73 563.10,203.48 563.50,203.00 563.86,203.15 564.23,203.59 564.59,204.28 564.95,205.16 565.32,206.17 565.68,207.23 566.05,208.24 566.41,209.12 566.77,209.81 567.14,210.25 567.50,210.40 567.85,210.06 568.21,209.07 568.56,207.45 568.91,205.26 569.26,202.57 569.62,199.48 569.97,196.09 570.32,192.52 570.68,188.88 571.03,185.31 571.38,181.92 571.74,178.83 572.09,176.14 572.44,173.95 572.79,172.33 573.15,171.34 573.50,171.00 573.86,171.43 574.22,172.72 574.58,174.82 574.94,177.68 575.31,181.20 575.67,185.28 576.03,189.79 576.39,194.59 576.75,199.55 577.11,204.51 577.47,209.31 577.83,213.82 578.19,217.90 578.56,221.42 578.92,224.28 579.28,226.38 579.64,227.67 580.00,228.10 580.36,227.75 580.71,226.71 581.07,225.01 581.42,222.69 581.77,219.80 582.13,216.41 582.49,212.62 582.84,208.51 583.20,204.18 583.55,199.75 583.90,195.32 584.26,190.99 584.62,186.88 584.97,183.09 585.33,179.70 585.68,176.81 586.03,174.49 586.39,172.79 586.75,171.75 587.10,171.40 587.46,171.57 587.82,172.08 588.18,172.92 588.54,174.08 588.90,175.55 589.26,177.31 589.62,179.34 589.99,181.60 590.35,184.08 590.71,186.74 591.07,189.55 591.43,192.47 591.79,195.47 592.15,198.50 592.51,201.53 592.87,204.53 593.23,207.45 593.59,210.26 593.95,212.92 594.31,215.40 594.68,217.66 595.04,219.69 595.40,221.45 595.76,222.92 596.12,224.08 596.48,224.92 596.84,225.43 597.20,225.60 597.56,225.12 597.91,223.70 598.27,221.36 598.63,218.16 598.99,214.17 599.34,209.49 599.70,204.20 600.06,198.44 600.41,192.32 600.77,186.00 601.13,179.60 601.49,173.28 601.84,167.16 602.20,161.40 602.56,156.11 602.91,151.43 603.27,147.44 603.63,144.24 603.99,141.90 604.34,140.48 604.70,140.00 605.06,140.80 605.42,143.20 605.77,147.11 606.13,152.44 606.49,159.04 606.85,166.73 607.21,175.30 607.56,184.52 607.92,194.13 608.28,203.87 608.64,213.48 608.99,222.70 609.35,231.27 609.71,238.96 610.07,245.56 610.43,250.89 610.78,254.80 611.14,257.20 611.50,258.00 611.86,257.45 612.22,255.81 612.58,253.12 612.94,249.41 613.30,244.77 613.67,239.27 614.03,233.02 614.39,226.14 614.75,218.76 615.11,211.00 615.47,203.03 615.83,194.97 616.19,187.00 616.55,179.24 616.91,171.86 617.27,164.98 617.63,158.73 618.00,153.23 618.36,148.59 618.72,144.88 619.08,142.19 619.44,140.55 619.80,140.00 620.15,140.29 620.51,141.17 620.86,142.61 621.22,144.62 621.57,147.16 621.93,150.22 622.28,153.75 622.64,157.73 622.99,162.11 623.35,166.85 623.70,171.90 624.06,177.20 624.41,182.71 624.77,188.37 625.12,194.11 625.48,199.89 625.83,205.63 626.19,211.29 626.54,216.80 626.90,222.10 627.25,227.15 627.61,231.89 627.96,236.27 628.32,240.25 628.67,243.78 629.03,246.84 629.38,249.38 629.74,251.39 630.09,252.83 630.45,253.71 630.80,254.00 631.15,253.21 631.51,250.86 631.86,247.01 632.21,241.77 632.56,235.28 632.92,227.72 633.27,219.30 633.62,210.24 633.97,200.79 634.33,191.21 634.68,181.76 635.03,172.70 635.38,164.28 635.74,156.72 636.09,150.23 636.44,144.99 636.79,141.14 637.15,138.79 637.50,138.00 637.86,140.35 638.23,147.36 638.59,158.88 638.95,174.67 639.32,194.42 639.68,217.73 640.05,244.11 640.41,273.04 640.77,303.92 641.14,336.13 641.50,369.00 641.86,401.87 642.23,434.08 642.59,464.96 642.95,493.89 643.32,520.27 643.68,543.58 644.05,563.33 644.41,579.12 644.77,590.64 645.14,597.65 645.50,600.00 645.85,597.13 646.20,588.54 646.56,574.37 646.91,554.79 647.26,530.08 647.61,500.57 647.96,466.65 648.31,428.79 648.67,387.50 649.02,343.33 649.37,296.89 649.72,248.80 650.07,199.71 650.43,150.29 650.78,101.20 651.13,53.11 651.48,6.67 651.83,-37.50 652.19,-78.79 652.54,-116.65 652.89,-150.57 653.24,-180.08 653.59,-204.79 653.94,-224.37 654.30,-238.54 654.65,-247.13 655.00,-250.00 655.36,-245.25 655.71,-231.12 656.07,-207.91 656.43,-176.15 656.79,-136.55 657.14,-89.98 657.50,-37.50 657.86,19.73 658.21,80.43 658.57,143.24 658.93,206.76 659.29,269.57 659.64,330.27 660.00,387.50 660.36,439.98 660.71,486.55 661.07,526.15 661.43,557.91 661.79,581.12 662.14,595.25 662.50,600.00 662.85,594.77 663.20,579.20 663.55,553.68 663.90,518.83 664.25,475.52 664.60,424.81 664.95,367.95 665.30,306.33 665.65,241.48 666.00,175.00 666.35,108.52 666.70,43.67 667.05,-17.95 667.40,-74.81 667.75,-125.52 668.10,-168.83 668.45,-203.68 668.80,-229.20 669.15,-244.77 669.50,-250.00 669.85,-242.76 670.21,-221.30 670.56,-186.34 670.91,-139.08 671.26,-81.12 671.62,-14.44 671.97,58.69 672.32,135.79 672.68,214.21 673.03,291.31 673.38,364.44 673.74,431.12 674.09,489.08 674.44,536.34 674.79,571.30 675.15,592.76 675.50,600.00 675.86,593.54 676.22,574.37 676.58,543.06 676.94,500.57 677.31,448.18 677.67,387.50 678.03,320.36 678.39,248.80 678.75,175.00 679.11,101.20 679.47,29.64 679.83,-37.50 680.19,-98.18 680.56,-150.57 680.92,-193.06 681.28,-224.37 681.64,-243.54 682.00,-250.00" fill="none" stroke="#5a5a5a" stroke-width="0.9"/><path d="M383.70,198.40 384.07,198.38 384.43,198.33 384.80,198.25 385.17,198.15 385.53,198.05 385.90,197.95 386.27,197.87 386.63,197.82 387.00,197.80 387.35,197.78 387.70,197.73 388.05,197.65 388.40,197.54 388.75,197.40 389.10,197.24 389.45,197.08 389.80,196.90 390.15,196.72 390.50,196.56 390.85,196.40 391.20,196.26 391.55,196.15 391.90,196.07 392.25,196.02 392.60,196.00 392.97,196.05 393.33,196.20 393.70,196.44 394.07,196.75 394.43,197.11 394.80,197.50 395.17,197.89 395.53,198.25 395.90,198.56 396.27,198.80 396.63,198.95 397.00,199.00 397.36,199.01 397.73,199.05 398.09,199.10 398.45,199.18 398.82,199.26 399.18,199.34 399.55,199.42 399.91,199.50 400.27,199.55 400.64,199.59 401.00,199.60 401.38,199.52 401.75,199.29 402.12,198.95 402.50,198.55 402.88,198.15 403.25,197.81 403.62,197.58 404.00,197.50 404.38,197.49 404.75,197.46 405.12,197.41 405.50,197.35 405.88,197.29 406.25,197.24 406.62,197.21 407.00,197.20 407.38,197.29 407.75,197.54 408.12,197.91 408.50,198.35 408.88,198.79 409.25,199.16 409.62,199.41 410.00,199.50 410.38,199.53 410.76,199.63 411.15,199.79 411.53,200.00 411.91,200.23 412.29,200.47 412.67,200.70 413.05,200.91 413.44,201.07 413.82,201.17 414.20,201.20 414.55,201.11 414.91,200.86 415.26,200.45 415.61,199.90 415.96,199.21 416.32,198.43 416.67,197.57 417.02,196.66 417.38,195.74 417.73,194.83 418.08,193.97 418.44,193.19 418.79,192.50 419.14,191.95 419.49,191.54 419.85,191.29 420.20,191.20 420.57,191.38 420.94,191.91 421.31,192.76 421.68,193.88 422.05,195.20 422.42,196.65 422.78,198.15 423.15,199.60 423.52,200.92 423.89,202.04 424.26,202.89 424.63,203.42 425.00,203.60 425.35,203.51 425.71,203.26 426.06,202.85 426.41,202.30 426.76,201.61 427.12,200.83 427.47,199.97 427.82,199.06 428.18,198.14 428.53,197.23 428.88,196.37 429.24,195.59 429.59,194.90 429.94,194.35 430.29,193.94 430.65,193.69 431.00,193.60 431.38,193.69 431.75,193.96 432.12,194.39 432.50,194.95 432.88,195.60 433.25,196.30 433.62,197.00 434.00,197.65 434.38,198.21 434.75,198.64 435.12,198.91 435.50,199.00 435.90,198.90 436.30,198.65 436.70,198.35 437.10,198.10 437.50,198.00 437.89,198.15 438.27,198.59 438.66,199.23 439.05,200.00 439.44,200.77 439.83,201.41 440.21,201.85 440.60,202.00 440.97,201.95 441.33,201.79 441.70,201.53 442.06,201.18 442.43,200.73 442.79,200.21 443.16,199.61 443.52,198.95 443.89,198.24 444.25,197.50 444.62,196.74 444.98,195.96 445.35,195.20 445.71,194.46 446.08,193.75 446.44,193.09 446.81,192.49 447.17,191.97 447.54,191.52 447.90,191.17 448.27,190.91 448.63,190.75 449.00,190.70 449.35,190.81 449.71,191.12 450.06,191.64 450.41,192.33 450.76,193.18 451.12,194.16 451.47,195.24 451.82,196.37 452.18,197.53 452.53,198.66 452.88,199.74 453.24,200.72 453.59,201.57 453.94,202.26 454.29,202.78 454.65,203.09 455.00,203.20 455.36,203.15 455.71,202.99 456.06,202.74 456.42,202.40 456.77,201.97 457.13,201.47 457.49,200.91 457.84,200.30 458.19,199.66 458.55,199.00 458.91,198.34 459.26,197.70 459.62,197.09 459.97,196.53 460.33,196.03 460.68,195.60 461.04,195.26 461.39,195.01 461.75,194.85 462.10,194.80 462.46,194.82 462.82,194.89 463.18,195.00 463.54,195.14 463.90,195.33 464.26,195.54 464.62,195.78 464.98,196.04 465.34,196.32 465.70,196.60 466.06,196.88 466.42,197.16 466.78,197.42 467.14,197.66 467.50,197.87 467.86,198.06 468.22,198.20 468.58,198.31 468.94,198.38 469.30,198.40 469.67,198.38 470.04,198.31 470.41,198.21 470.78,198.09 471.15,197.95 471.52,197.81 471.89,197.69 472.26,197.59 472.63,197.52 473.00,197.50 473.40,197.57 473.80,197.74 474.20,197.96 474.60,198.13 475.00,198.20 475.35,198.16 475.71,198.03 476.06,197.82 476.42,197.56 476.77,197.26 477.13,196.94 477.48,196.64 477.84,196.38 478.19,196.17 478.55,196.04 478.90,196.00 479.27,196.05 479.65,196.19 480.02,196.41 480.39,196.70 480.76,197.03 481.14,197.37 481.51,197.70 481.88,197.99 482.25,198.21 482.63,198.35 483.00,198.40 483.38,198.30 483.76,198.02 484.15,197.57 484.53,197.00 484.91,196.34 485.29,195.66 485.67,195.00 486.05,194.43 486.44,193.98 486.82,193.70 487.20,193.60 487.55,193.64 487.90,193.76 488.25,193.97 488.60,194.24 488.95,194.59 489.30,195.01 489.65,195.48 490.00,196.00 490.35,196.56 490.70,197.16 491.05,197.77 491.40,198.40 491.75,199.03 492.10,199.64 492.45,200.24 492.80,200.80 493.15,201.32 493.50,201.79 493.85,202.21 494.20,202.56 494.55,202.83 494.90,203.04 495.25,203.16 495.60,203.20 495.97,203.13 496.33,202.94 496.70,202.62 497.06,202.18 497.43,201.63 497.79,200.98 498.16,200.24 498.52,199.42 498.89,198.54 499.25,197.62 499.62,196.68 499.98,195.72 500.35,194.78 500.71,193.86 501.08,192.98 501.44,192.16 501.81,191.42 502.17,190.77 502.54,190.22 502.90,189.78 503.27,189.46 503.63,189.27 504.00,189.20 504.36,189.34 504.72,189.78 505.08,190.48 505.44,191.44 505.80,192.64 506.16,194.04 506.52,195.62 506.88,197.32 507.24,199.11 507.60,200.95 507.96,202.79 508.32,204.58 508.68,206.28 509.04,207.86 509.40,209.26 509.76,210.46 510.12,211.42 510.48,212.12 510.84,212.56 511.20,212.70 511.56,212.50 511.92,211.89 512.29,210.90 512.65,209.54 513.01,207.84 513.37,205.85 513.73,203.60 514.10,201.15 514.46,198.55 514.82,195.86 515.18,193.14 515.54,190.45 515.90,187.85 516.27,185.40 516.63,183.15 516.99,181.16 517.35,179.46 517.71,178.10 518.08,177.11 518.44,176.50 518.80,176.30 519.16,176.64 519.52,177.67 519.87,179.34 520.23,181.61 520.59,184.43 520.95,187.72 521.31,191.38 521.66,195.31 522.02,199.42 522.38,203.58 522.74,207.69 523.09,211.62 523.45,215.28 523.81,218.57 524.17,221.39 524.53,223.66 524.88,225.33 525.24,226.36 525.60,226.70 525.95,226.17 526.31,224.59 526.66,222.03 527.01,218.56 527.36,214.30 527.72,209.41 528.07,204.04 528.42,198.38 528.78,192.62 529.13,186.96 529.48,181.59 529.84,176.70 530.19,172.44 530.54,168.97 530.89,166.41 531.25,164.83 531.60,164.30 531.95,164.90 532.31,166.68 532.66,169.58 533.01,173.50 533.36,178.31 533.72,183.84 534.07,189.90 534.42,196.30 534.78,202.80 535.13,209.20 535.48,215.26 535.84,220.79 536.19,225.60 536.54,229.52 536.89,232.42 537.25,234.20 537.60,234.80 537.97,233.98 538.33,231.57 538.70,227.66 539.07,222.43 539.43,216.10 539.80,208.96 540.17,201.31 540.53,193.49 540.90,185.84 541.27,178.70 541.63,172.37 542.00,167.14 542.37,163.23 542.73,160.82 543.10,160.00 543.46,160.53 543.81,162.11 544.17,164.69 544.52,168.19 544.88,172.50 545.23,177.50 545.59,183.03 545.94,188.92 546.30,195.00 546.66,201.08 547.01,206.97 547.37,212.50 547.72,217.50 548.08,221.81 548.43,225.31 548.79,227.89 549.14,229.47 549.50,230.00 549.85,229.53 550.21,228.14 550.56,225.87 550.91,222.81 551.26,219.05 551.62,214.73 551.97,209.99 552.32,204.99 552.68,199.91 553.03,194.91 553.38,190.17 553.74,185.85 554.09,182.09 554.44,179.03 554.79,176.76 555.15,175.37 555.50,174.90 555.85,175.15 556.21,175.90 556.56,177.11 556.91,178.75 557.26,180.76 557.62,183.08 557.97,185.61 558.32,188.29 558.68,191.01 559.03,193.69 559.38,196.22 559.74,198.54 560.09,200.55 560.44,202.19 560.79,203.40 561.15,204.15 561.50,204.40 561.90,204.03 562.30,203.05 562.70,201.85 563.10,200.87 563.50,200.50 563.86,200.70 564.23,201.29 564.59,202.21 564.95,203.39 565.32,204.75 565.68,206.15 566.05,207.51 566.41,208.69 566.77,209.61 567.14,210.20 567.50,210.40 567.85,210.07 568.21,209.09 568.56,207.49 568.91,205.32 569.26,202.67 569.62,199.62 569.97,196.27 570.32,192.74 570.68,189.16 571.03,185.63 571.38,182.28 571.74,179.23 572.09,176.58 572.44,174.41 572.79,172.81 573.15,171.83 573.50,171.50 573.86,171.93 574.22,173.21 574.58,175.29 574.94,178.12 575.31,181.61 575.67,185.65 576.03,190.12 576.39,194.89 576.75,199.80 577.11,204.71 577.47,209.48 577.83,213.95 578.19,217.99 578.56,221.48 578.92,224.31 579.28,226.39 579.64,227.67 580.00,228.10 580.36,227.75 580.71,226.71 581.07,225.01 581.42,222.69 581.77,219.80 582.13,216.41 582.49,212.62 582.84,208.51 583.20,204.18 583.55,199.75 583.90,195.32 584.26,190.99 584.62,186.88 584.97,183.09 585.33,179.70 585.68,176.81 586.03,174.49 586.39,172.79 586.75,171.75 587.10,171.40 587.46,171.57 587.82,172.08 588.18,172.92 588.54,174.08 588.90,175.55 589.26,177.31 589.62,179.34 589.99,181.60 590.35,184.08 590.71,186.74 591.07,189.55 591.43,192.47 591.79,195.47 592.15,198.50 592.51,201.53 592.87,204.53 593.23,207.45 593.59,210.26 593.95,212.92 594.31,215.40 594.68,217.66 595.04,219.69 595.40,221.45 595.76,222.92 596.12,224.08 596.48,224.92 596.84,225.43 597.20,225.60 597.56,225.12 597.91,223.70 598.27,221.36 598.63,218.16 598.99,214.17 599.34,209.49 599.70,204.20 600.06,198.44 600.41,192.32 600.77,186.00 601.13,179.60 601.49,173.28 601.84,167.16 602.20,161.40 602.56,156.11 602.91,151.43 603.27,147.44 603.63,144.24 603.99,141.90 604.34,140.48 604.70,140.00 605.06,140.80 605.42,143.20 605.77,147.11 606.13,152.44 606.49,159.04 606.85,166.73 607.21,175.30 607.56,184.52 607.92,194.13 608.28,203.87 608.64,213.48 608.99,222.70 609.35,231.27 609.71,238.96 610.07,245.56 610.43,250.89 610.78,254.80 611.14,257.20 611.50,258.00 611.86,257.51 612.22,256.03 612.58,253.61 612.94,250.28 613.30,246.11 613.67,241.18 614.03,235.56 614.39,229.38 614.75,222.75 615.11,215.78 615.47,208.62 615.83,201.38 616.19,194.22 616.55,187.25 616.91,180.62 617.27,174.44 617.63,168.82 618.00,163.89 618.36,159.72 618.72,156.39 619.08,153.97 619.44,152.49 619.80,152.00 620.15,152.26 620.51,153.02 620.86,154.29 621.22,156.05 621.57,158.28 621.93,160.96 622.28,164.06 622.64,167.55 622.99,171.39 623.35,175.55 623.70,179.98 624.06,184.63 624.41,189.47 624.77,194.43 625.12,199.47 625.48,204.53 625.83,209.57 626.19,214.53 626.54,219.37 626.90,224.02 627.25,228.45 627.61,232.61 627.96,236.45 628.32,239.94 628.67,243.04 629.03,245.72 629.38,247.95 629.74,249.71 630.09,250.98 630.45,251.74 630.80,252.00 631.15,251.24 631.51,248.97 631.86,245.25 632.21,240.19 632.56,233.93 632.92,226.63 633.27,218.49 633.62,209.75 633.97,200.62 634.33,191.38 634.68,182.25 635.03,173.51 635.38,165.37 635.74,158.07 636.09,151.81 636.44,146.75 636.79,143.03 637.15,140.76 637.50,140.00 637.86,142.34 638.23,149.32 638.59,160.78 638.95,176.51 639.32,196.18 639.68,219.38 640.05,245.65 640.41,274.45 640.77,305.20 641.14,337.27 641.50,370.00 641.86,402.73 642.23,434.80 642.59,465.55 642.95,494.35 643.32,520.62 643.68,543.82 644.05,563.49 644.41,579.22 644.77,590.68 645.14,597.66 645.50,600.00 645.85,597.13 646.20,588.54 646.56,574.37 646.91,554.79 647.26,530.08 647.61,500.57 647.96,466.65 648.31,428.79 648.67,387.50 649.02,343.33 649.37,296.89 649.72,248.80 650.07,199.71 650.43,150.29 650.78,101.20 651.13,53.11 651.48,6.67 651.83,-37.50 652.19,-78.79 652.54,-116.65 652.89,-150.57 653.24,-180.08 653.59,-204.79 653.94,-224.37 654.30,-238.54 654.65,-247.13 655.00,-250.00 655.36,-245.25 655.71,-231.12 656.07,-207.91 656.43,-176.15 656.79,-136.55 657.14,-89.98 657.50,-37.50 657.86,19.73 658.21,80.43 658.57,143.24 658.93,206.76 659.29,269.57 659.64,330.27 660.00,387.50 660.36,439.98 660.71,486.55 661.07,526.15 661.43,557.91 661.79,581.12 662.14,595.25 662.50,600.00 662.85,594.77 663.20,579.20 663.55,553.68 663.90,518.83 664.25,475.52 664.60,424.81 664.95,367.95 665.30,306.33 665.65,241.48 666.00,175.00 666.35,108.52 666.70,43.67 667.05,-17.95 667.40,-74.81 667.75,-125.52 668.10,-168.83 668.45,-203.68 668.80,-229.20 669.15,-244.77 669.50,-250.00 669.85,-242.76 670.21,-221.30 670.56,-186.34 670.91,-139.08 671.26,-81.12 671.62,-14.44 671.97,58.69 672.32,135.79 672.68,214.21 673.03,291.31 673.38,364.44 673.74,431.12 674.09,489.08 674.44,536.34 674.79,571.30 675.15,592.76 675.50,600.00 675.86,593.54 676.22,574.37 676.58,543.06 676.94,500.57 677.31,448.18 677.67,387.50 678.03,320.36 678.39,248.80 678.75,175.00 679.11,101.20 679.47,29.64 679.83,-37.50 680.19,-98.18 680.56,-150.57 680.92,-193.06 681.28,-224.37 681.64,-243.54 682.00,-250.00" fill="none" stroke="#45b0e2" stroke-width="1.4"/></g>
<g clip-path="url(#c3)"><path d="M384.05,328.02 384.43,327.94 384.82,327.75 385.20,327.48 385.58,327.21 385.97,327.01 386.35,326.94 386.73,327.00 387.10,327.17 387.48,327.44 387.85,327.75 388.23,328.06 388.60,328.32 388.98,328.49 389.35,328.56 389.71,328.50 390.07,328.32 390.43,328.04 390.79,327.70 391.15,327.31 391.51,326.93 391.87,326.58 392.23,326.31 392.59,326.13 392.95,326.07 393.31,326.14 393.68,326.34 394.04,326.65 394.40,327.05 394.77,327.51 395.13,327.98 395.50,328.44 395.86,328.84 396.22,329.15 396.59,329.35 396.95,329.42 397.31,329.35 397.67,329.13 398.03,328.77 398.39,328.29 398.75,327.72 399.11,327.07 399.47,326.37 399.83,325.66 400.19,324.97 400.55,324.32 400.91,323.74 401.27,323.27 401.63,322.91 401.99,322.69 402.35,322.62 402.71,322.82 403.07,323.41 403.43,324.35 403.80,325.60 404.16,327.08 404.52,328.69 404.88,330.36 405.24,331.98 405.60,333.45 405.97,334.70 406.33,335.65 406.69,336.24 407.05,336.44 407.40,336.01 407.76,334.74 408.11,332.75 408.47,330.19 408.82,327.27 409.18,324.23 409.53,321.31 409.89,318.75 410.24,316.75 410.60,315.49 410.95,315.06 411.30,315.64 411.66,317.33 412.01,319.99 412.37,323.42 412.72,327.33 413.08,331.40 413.43,335.31 413.79,338.74 414.14,341.40 414.50,343.10 414.85,343.68 415.20,342.81 415.55,340.30 415.90,336.40 416.25,331.47 416.60,326.02 416.95,320.56 417.30,315.64 417.65,311.73 418.00,309.22 418.35,308.36 418.70,309.33 419.05,312.13 419.40,316.51 419.75,322.02 420.10,328.12 420.45,334.23 420.80,339.74 421.15,344.11 421.50,346.92 421.85,347.89 422.20,346.30 422.55,341.78 422.90,335.02 423.25,327.04 423.60,319.07 423.95,312.31 424.30,307.79 424.65,306.20 425.03,307.40 425.41,310.87 425.78,316.19 426.16,322.71 426.54,329.65 426.92,336.17 427.29,341.49 427.67,344.96 428.05,346.16 428.43,345.25 428.81,342.62 429.18,338.60 429.56,333.67 429.94,328.41 430.32,323.48 430.69,319.46 431.07,316.83 431.45,315.92 431.81,316.29 432.17,317.36 432.53,319.04 432.89,321.14 433.25,323.48 433.61,325.82 433.97,327.92 434.33,329.60 434.69,330.67 435.05,331.04 435.42,330.42 435.78,329.18 436.15,328.56 436.55,329.20 436.95,330.87 437.35,332.94 437.75,334.61 438.15,335.25 438.53,334.60 438.91,332.74 439.28,329.88 439.66,326.37 440.04,322.64 440.42,319.13 440.79,316.27 441.17,314.41 441.55,313.76 441.91,314.50 442.27,316.65 442.63,319.99 442.99,324.21 443.35,328.88 443.71,333.55 444.07,337.77 444.43,341.11 444.79,343.26 445.15,344.00 445.52,343.49 445.88,341.99 446.25,339.60 446.62,336.49 446.98,332.87 447.35,328.99 447.72,325.10 448.08,321.48 448.45,318.37 448.82,315.99 449.18,314.49 449.55,313.98 449.92,314.34 450.29,315.41 450.66,317.13 451.04,319.42 451.41,322.17 451.78,325.23 452.15,328.45 452.52,331.67 452.89,334.73 453.26,337.47 453.64,339.76 454.01,341.49 454.38,342.56 454.75,342.92 455.12,342.20 455.48,340.08 455.85,336.70 456.22,332.31 456.58,327.19 456.95,321.70 457.32,316.21 457.68,311.09 458.05,306.69 458.42,303.32 458.78,301.20 459.15,300.48 459.51,302.53 459.88,308.37 460.24,317.11 460.60,327.42 460.96,337.73 461.33,346.48 461.69,352.32 462.05,354.37 462.48,348.32 462.92,336.22 463.35,330.18 463.72,330.09 464.09,329.84 464.46,329.43 464.83,328.89 465.20,328.26 465.57,327.56 465.93,326.85 466.30,326.15 466.67,325.52 467.04,324.98 467.41,324.58 467.78,324.32 468.15,324.24 468.52,324.33 468.89,324.60 469.26,325.04 469.64,325.62 470.01,326.31 470.38,327.09 470.75,327.91 471.12,328.73 471.49,329.50 471.86,330.20 472.24,330.78 472.61,331.22 472.98,331.49 473.35,331.58 473.71,331.47 474.07,331.16 474.43,330.64 474.79,329.95 475.15,329.12 475.51,328.18 475.87,327.18 476.23,326.15 476.59,325.15 476.95,324.21 477.31,323.38 477.67,322.69 478.03,322.18 478.39,321.86 478.75,321.75 479.10,322.01 479.45,322.75 479.80,323.93 480.15,325.48 480.50,327.28 480.85,329.20 481.20,331.13 481.55,332.93 481.90,334.47 482.25,335.66 482.60,336.40 482.95,336.66 483.32,336.32 483.70,335.33 484.07,333.74 484.44,331.60 484.82,329.01 485.19,326.10 485.56,322.97 485.94,319.78 486.31,316.65 486.68,313.73 487.06,311.15 487.43,309.01 487.80,307.41 488.18,306.43 488.55,306.09 488.92,307.33 489.30,310.96 489.67,316.68 490.04,324.02 490.41,332.40 490.79,341.13 491.16,349.51 491.53,356.85 491.90,362.57 492.28,366.19 492.65,367.44 493.03,365.24 493.41,358.86 493.79,348.92 494.17,336.39 494.55,322.51 494.93,308.62 495.31,296.10 495.69,286.16 496.07,279.78 496.45,277.58 496.81,281.10 497.18,291.13 497.54,306.15 497.90,323.86 498.26,341.57 498.62,356.58 498.99,366.61 499.35,370.14 499.71,368.52 500.07,363.82 500.43,356.51 500.79,347.30 501.15,337.09 501.51,326.88 501.87,317.66 502.23,310.35 502.59,305.66 502.95,304.04 503.34,305.22 503.73,308.60 504.11,313.64 504.50,319.59 504.89,325.54 505.28,330.59 505.66,333.96 506.05,335.14 506.45,333.93 506.85,330.61 507.25,326.07 507.65,321.54 508.05,318.22 508.45,317.00 508.81,318.28 509.18,321.93 509.54,327.40 509.90,333.85 510.26,340.30 510.62,345.76 510.99,349.41 511.35,350.70 511.75,348.00 512.15,340.45 512.55,329.54 512.95,317.42 513.35,306.51 513.75,298.96 514.15,296.26 514.51,298.18 514.86,303.68 515.22,312.11 515.57,322.46 515.93,333.47 516.28,343.81 516.64,352.24 516.99,357.75 517.35,359.66 517.75,356.42 518.15,347.34 518.55,334.22 518.95,319.65 519.35,306.53 519.75,297.45 520.15,294.21 520.51,296.15 520.86,301.72 521.22,310.25 521.57,320.72 521.93,331.86 522.28,342.33 522.64,350.86 522.99,356.43 523.35,358.36 523.74,356.30 524.12,350.41 524.51,341.60 524.90,331.20 525.29,320.81 525.68,312.00 526.06,306.11 526.45,304.04 526.81,304.83 527.17,307.13 527.53,310.72 527.89,315.23 528.25,320.24 528.61,325.25 528.97,329.76 529.33,333.35 529.69,335.65 530.05,336.44 530.45,335.97 530.85,334.65 531.25,332.75 531.65,330.63 532.05,328.73 532.45,327.41 532.85,326.94 533.23,327.41 533.60,328.56 533.98,329.70 534.35,330.18 534.71,329.38 535.08,327.11 535.44,323.71 535.80,319.70 536.16,315.69 536.52,312.29 536.89,310.02 537.25,309.22 537.62,310.17 538.00,312.92 538.37,317.26 538.74,322.83 539.11,329.19 539.49,335.81 539.86,342.17 540.23,347.74 540.60,352.08 540.98,354.83 541.35,355.77 541.70,354.28 542.05,349.97 542.40,343.24 542.75,334.76 543.10,325.37 543.45,315.98 543.80,307.50 544.15,300.77 544.50,296.46 544.85,294.97 545.21,296.46 545.57,300.77 545.93,307.50 546.29,315.98 546.65,325.37 547.01,334.76 547.37,343.24 547.73,349.97 548.09,354.28 548.45,355.77 548.81,354.70 549.17,351.57 549.53,346.71 549.89,340.59 550.25,333.79 550.61,327.00 550.97,320.88 551.33,316.01 551.69,312.89 552.05,311.82 552.42,312.18 552.80,313.27 553.17,315.02 553.54,317.37 553.92,320.21 554.29,323.42 554.66,326.85 555.04,330.37 555.41,333.80 555.78,337.01 556.16,339.85 556.53,342.20 556.90,343.95 557.28,345.04 557.65,345.40 558.02,344.80 558.39,343.03 558.76,340.18 559.14,336.40 559.51,331.86 559.88,326.81 560.25,321.48 560.62,316.16 560.99,311.10 561.36,306.57 561.74,302.78 562.11,299.93 562.48,298.16 562.85,297.56 563.24,299.87 563.62,306.46 564.01,316.33 564.40,327.96 564.79,339.60 565.18,349.46 565.56,356.05 565.95,358.36 566.31,356.97 566.67,352.93 567.03,346.63 567.39,338.70 567.75,329.91 568.11,321.11 568.47,313.18 568.83,306.88 569.19,302.84 569.55,301.45 569.92,302.15 570.28,304.22 570.65,307.51 571.02,311.79 571.38,316.78 571.75,322.13 572.12,327.48 572.48,332.47 572.85,336.75 573.22,340.04 573.58,342.11 573.95,342.81 574.31,342.65 574.67,342.15 575.03,341.33 575.39,340.22 575.75,338.84 576.11,337.22 576.47,335.41 576.83,333.45 577.19,331.38 577.55,329.26 577.91,327.14 578.27,325.07 578.63,323.10 578.99,321.29 579.35,319.67 579.71,318.29 580.07,317.18 580.43,316.37 580.79,315.87 581.15,315.70 581.52,316.38 581.90,318.37 582.27,321.50 582.64,325.52 583.01,330.11 583.39,334.89 583.76,339.47 584.13,343.50 584.50,346.63 584.88,348.61 585.25,349.29 585.64,347.67 586.02,343.04 586.41,336.12 586.80,327.96 587.19,319.80 587.58,312.88 587.96,308.26 588.35,306.63 588.71,307.24 589.08,309.00 589.44,311.78 589.80,315.34 590.17,319.41 590.53,323.66 590.90,327.73 591.26,331.30 591.62,334.07 591.99,335.84 592.35,336.44 592.75,335.70 593.15,333.75 593.55,331.35 593.95,329.41 594.35,328.66 594.73,329.04 595.10,329.96 595.48,330.88 595.85,331.26 596.25,330.17 596.65,327.11 597.05,322.69 597.45,317.79 597.85,313.37 598.25,310.31 598.65,309.22 599.02,309.96 599.40,312.10 599.77,315.47 600.14,319.80 600.51,324.74 600.89,329.89 601.26,334.83 601.63,339.16 602.00,342.53 602.38,344.67 602.75,345.40 603.11,344.74 603.47,342.82 603.83,339.82 604.19,336.04 604.55,331.85 604.91,327.66 605.27,323.88 605.63,320.88 605.99,318.96 606.35,318.30 606.71,318.63 607.07,319.60 607.42,321.14 607.78,323.16 608.14,325.50 608.50,328.02 608.86,330.53 609.22,332.88 609.58,334.89 609.93,336.43 610.29,337.40 610.65,337.74 611.00,337.52 611.36,336.90 611.71,335.88 612.06,334.52 612.42,332.88 612.77,331.02 613.12,329.03 613.48,327.00 613.83,325.01 614.18,323.16 614.54,321.51 614.89,320.15 615.24,319.14 615.60,318.51 615.95,318.30 616.32,318.62 616.69,319.56 617.06,321.07 617.43,323.05 617.80,325.41 618.17,327.98 618.53,330.64 618.90,333.22 619.27,335.57 619.64,337.56 620.01,339.07 620.38,340.01 620.75,340.33 621.12,339.97 621.49,338.92 621.86,337.22 622.24,334.96 622.61,332.26 622.98,329.24 623.35,326.07 623.72,322.90 624.09,319.89 624.46,317.18 624.84,314.93 625.21,313.23 625.58,312.17 625.95,311.82 626.32,312.43 626.68,314.24 627.05,317.11 627.42,320.86 627.78,325.22 628.15,329.91 628.52,334.59 628.88,338.95 629.25,342.70 629.62,345.57 629.98,347.38 630.35,348.00 630.71,347.41 631.07,345.70 631.43,342.96 631.80,339.34 632.16,335.07 632.52,330.38 632.88,325.55 633.24,320.86 633.60,316.58 633.97,312.97 634.33,310.22 634.69,308.51 635.05,307.93 635.42,308.59 635.79,310.52 636.16,313.62 636.53,317.70 636.90,322.53 637.27,327.83 637.63,333.28 638.00,338.58 638.37,343.41 638.74,347.49 639.11,350.59 639.48,352.52 639.85,353.18 640.20,352.54 640.56,350.66 640.91,347.62 641.26,343.55 641.62,338.63 641.97,333.07 642.32,327.12 642.68,321.03 643.03,315.08 643.38,309.52 643.74,304.60 644.09,300.53 644.44,297.48 644.80,295.60 645.15,294.97 645.50,296.28 645.86,300.10 646.21,306.13 646.57,313.88 646.92,322.71 647.28,331.92 647.63,340.75 647.99,348.50 648.34,354.53 648.70,358.35 649.05,359.66 649.41,358.53 649.78,355.25 650.14,350.06 650.50,343.40 650.87,335.81 651.23,327.89 651.60,320.30 651.96,313.64 652.32,308.45 652.69,305.17 653.05,304.04 653.42,304.98 653.80,307.74 654.17,312.09 654.54,317.68 654.91,324.05 655.29,330.69 655.66,337.06 656.03,342.64 656.40,346.99 656.78,349.75 657.15,350.70 657.53,349.52 657.91,346.12 658.29,340.81 658.67,334.13 659.05,326.72 659.43,319.31 659.81,312.63 660.19,307.32 660.57,303.92 660.95,302.74 661.32,303.72 661.70,306.55 662.07,311.02 662.44,316.76 662.81,323.31 663.19,330.13 663.56,336.68 663.93,342.42 664.30,346.89 664.68,349.72 665.05,350.70 665.41,349.62 665.77,346.49 666.13,341.61 666.49,335.47 666.85,328.66 667.21,321.86 667.57,315.71 667.93,310.84 668.29,307.71 668.65,306.63 669.01,307.42 669.37,309.73 669.73,313.31 670.09,317.83 670.45,322.83 670.81,327.84 671.17,332.35 671.53,335.94 671.89,338.24 672.25,339.03 672.61,338.68 672.97,337.67 673.33,336.09 673.69,334.11 674.05,331.90 674.41,329.70 674.77,327.71 675.13,326.14 675.49,325.12 675.85,324.78 676.23,325.25 676.60,326.40 676.98,327.54 677.35,328.02 677.73,327.92 678.11,327.64 678.48,327.21 678.86,326.68 679.24,326.11 679.62,325.59 679.99,325.16 680.37,324.87 680.75,324.78" fill="none" stroke="#5a5a5a" stroke-width="0.9"/><path d="M383.70,328.00 384.08,327.93 384.47,327.75 384.85,327.50 385.23,327.25 385.62,327.07 386.00,327.00 386.38,327.06 386.75,327.22 387.12,327.46 387.50,327.75 387.88,328.04 388.25,328.28 388.62,328.44 389.00,328.50 389.36,328.44 389.72,328.28 390.08,328.03 390.44,327.71 390.80,327.35 391.16,326.99 391.52,326.67 391.88,326.42 392.24,326.26 392.60,326.20 392.96,326.26 393.33,326.45 393.69,326.73 394.05,327.11 394.42,327.53 394.78,327.97 395.15,328.39 395.51,328.77 395.87,329.05 396.24,329.24 396.60,329.30 396.96,329.23 397.32,329.03 397.68,328.70 398.04,328.26 398.40,327.73 398.76,327.12 399.12,326.48 399.48,325.82 399.84,325.18 400.20,324.57 400.56,324.04 400.92,323.60 401.28,323.27 401.64,323.07 402.00,323.00 402.36,323.19 402.72,323.73 403.08,324.61 403.45,325.76 403.81,327.13 404.17,328.63 404.53,330.17 404.89,331.67 405.25,333.04 405.62,334.19 405.98,335.07 406.34,335.61 406.70,335.80 407.05,335.40 407.41,334.23 407.76,332.38 408.12,330.01 408.47,327.31 408.83,324.49 409.18,321.79 409.54,319.42 409.89,317.57 410.25,316.40 410.60,316.00 410.95,316.54 411.31,318.10 411.66,320.57 412.02,323.75 412.37,327.36 412.73,331.14 413.08,334.75 413.44,337.93 413.79,340.40 414.15,341.96 414.50,342.50 414.85,341.70 415.20,339.38 415.55,335.76 415.90,331.20 416.25,326.15 416.60,321.10 416.95,316.54 417.30,312.92 417.65,310.60 418.00,309.80 418.35,310.70 418.70,313.29 419.05,317.34 419.40,322.44 419.75,328.10 420.10,333.76 420.45,338.86 420.80,342.91 421.15,345.50 421.50,346.40 421.85,344.93 422.20,340.75 422.55,334.49 422.90,327.10 423.25,319.71 423.60,313.45 423.95,309.27 424.30,307.80 424.68,308.92 425.06,312.13 425.43,317.05 425.81,323.09 426.19,329.51 426.57,335.55 426.94,340.47 427.32,343.68 427.70,344.80 428.08,343.96 428.46,341.52 428.83,337.80 429.21,333.23 429.59,328.37 429.97,323.80 430.34,320.08 430.72,317.64 431.10,316.80 431.46,317.14 431.82,318.14 432.18,319.69 432.54,321.64 432.90,323.80 433.26,325.96 433.62,327.91 433.98,329.46 434.34,330.46 434.70,330.80 435.07,330.23 435.43,329.07 435.80,328.50 436.20,329.09 436.60,330.64 437.00,332.56 437.40,334.11 437.80,334.70 438.18,334.10 438.56,332.37 438.93,329.73 439.31,326.48 439.69,323.02 440.07,319.78 440.44,317.13 440.82,315.40 441.20,314.80 441.56,315.49 441.92,317.47 442.28,320.57 442.64,324.47 443.00,328.80 443.36,333.13 443.72,337.03 444.08,340.13 444.44,342.11 444.80,342.80 445.17,342.33 445.53,340.94 445.90,338.73 446.27,335.85 446.63,332.50 447.00,328.90 447.37,325.30 447.73,321.95 448.10,319.07 448.47,316.86 448.83,315.47 449.20,315.00 449.57,315.34 449.94,316.33 450.31,317.92 450.69,320.05 451.06,322.59 451.43,325.42 451.80,328.40 452.17,331.38 452.54,334.21 452.91,336.75 453.29,338.88 453.66,340.47 454.03,341.46 454.40,341.80 454.77,341.13 455.13,339.17 455.50,336.04 455.87,331.98 456.23,327.24 456.60,322.15 456.97,317.06 457.33,312.32 457.70,308.26 458.07,305.13 458.43,303.17 458.80,302.50 459.16,304.40 459.52,309.81 459.89,317.90 460.25,327.45 460.61,337.00 460.98,345.09 461.34,350.50 461.70,352.40 462.13,346.80 462.57,335.60 463.00,330.00 463.37,329.92 463.74,329.69 464.11,329.31 464.48,328.81 464.85,328.23 465.22,327.58 465.58,326.92 465.95,326.27 466.32,325.69 466.69,325.19 467.06,324.81 467.43,324.58 467.80,324.50 468.17,324.59 468.54,324.84 468.91,325.24 469.29,325.78 469.66,326.42 470.03,327.14 470.40,327.90 470.77,328.66 471.14,329.38 471.51,330.02 471.89,330.56 472.26,330.96 472.63,331.21 473.00,331.30 473.36,331.20 473.72,330.91 474.08,330.43 474.44,329.79 474.80,329.03 475.16,328.16 475.52,327.23 475.88,326.27 476.24,325.34 476.60,324.48 476.96,323.71 477.32,323.07 477.68,322.59 478.04,322.30 478.40,322.20 478.75,322.44 479.10,323.12 479.45,324.22 479.80,325.65 480.15,327.31 480.50,329.10 480.85,330.89 481.20,332.55 481.55,333.98 481.90,335.08 482.25,335.76 482.60,336.00 482.97,335.69 483.35,334.78 483.72,333.30 484.09,331.32 484.47,328.93 484.84,326.22 485.21,323.33 485.59,320.37 485.96,317.48 486.33,314.77 486.71,312.38 487.08,310.40 487.45,308.92 487.83,308.01 488.20,307.70 488.57,308.85 488.95,312.21 489.32,317.50 489.69,324.30 490.06,332.06 490.44,340.14 490.81,347.90 491.18,354.70 491.55,359.99 491.93,363.35 492.30,364.50 492.68,362.46 493.06,356.56 493.44,347.35 493.82,335.76 494.20,322.90 494.58,310.04 494.96,298.45 495.34,289.24 495.72,283.34 496.10,281.30 496.46,284.56 496.83,293.85 497.19,307.75 497.55,324.15 497.91,340.55 498.27,354.45 498.64,363.74 499.00,367.00 499.36,365.50 499.72,361.16 500.08,354.39 500.44,345.86 500.80,336.40 501.16,326.94 501.52,318.41 501.88,311.64 502.24,307.30 502.60,305.80 502.99,306.90 503.38,310.02 503.76,314.69 504.15,320.20 504.54,325.71 504.93,330.38 505.31,333.50 505.70,334.60 506.10,333.47 506.50,330.40 506.90,326.20 507.30,322.00 507.70,318.93 508.10,317.80 508.46,318.99 508.83,322.37 509.19,327.43 509.55,333.40 509.91,339.37 510.27,344.43 510.64,347.81 511.00,349.00 511.40,346.50 511.80,339.51 512.20,329.41 512.60,318.19 513.00,308.09 513.40,301.10 513.80,298.60 514.16,300.37 514.51,305.47 514.87,313.28 515.22,322.85 515.58,333.05 515.93,342.62 516.29,350.43 516.64,355.53 517.00,357.30 517.40,354.30 517.80,345.89 518.20,333.74 518.60,320.26 519.00,308.11 519.40,299.70 519.80,296.70 520.16,298.49 520.51,303.65 520.87,311.55 521.22,321.24 521.58,331.56 521.93,341.25 522.29,349.15 522.64,354.31 523.00,356.10 523.39,354.19 523.77,348.73 524.16,340.57 524.55,330.95 524.94,321.33 525.33,313.17 525.71,307.71 526.10,305.80 526.46,306.53 526.82,308.66 527.18,311.98 527.54,316.16 527.90,320.80 528.26,325.44 528.62,329.62 528.98,332.94 529.34,335.07 529.70,335.80 530.10,335.36 530.50,334.14 530.90,332.38 531.30,330.42 531.70,328.66 532.10,327.44 532.50,327.00 532.88,327.44 533.25,328.50 533.62,329.56 534.00,330.00 534.36,329.26 534.73,327.16 535.09,324.01 535.45,320.30 535.81,316.59 536.17,313.44 536.54,311.34 536.90,310.60 537.27,311.47 537.65,314.02 538.02,318.04 538.39,323.20 538.76,329.08 539.14,335.22 539.51,341.10 539.88,346.26 540.25,350.28 540.63,352.83 541.00,353.70 541.35,352.32 541.70,348.32 542.05,342.10 542.40,334.25 542.75,325.55 543.10,316.85 543.45,309.00 543.80,302.78 544.15,298.78 544.50,297.40 544.86,298.78 545.22,302.78 545.58,309.00 545.94,316.85 546.30,325.55 546.66,334.25 547.02,342.10 547.38,348.32 547.74,352.32 548.10,353.70 548.46,352.70 548.82,349.81 549.18,345.31 549.54,339.64 549.90,333.35 550.26,327.06 550.62,321.39 550.98,316.89 551.34,314.00 551.70,313.00 552.07,313.34 552.45,314.34 552.82,315.97 553.19,318.15 553.57,320.77 553.94,323.74 554.31,326.92 554.69,330.18 555.06,333.36 555.43,336.32 555.81,338.95 556.18,341.13 556.55,342.76 556.93,343.76 557.30,344.10 557.67,343.54 558.04,341.91 558.41,339.27 558.79,335.76 559.16,331.56 559.53,326.88 559.90,321.95 560.27,317.02 560.64,312.34 561.01,308.14 561.39,304.63 561.76,301.99 562.13,300.36 562.50,299.80 562.89,301.94 563.27,308.04 563.66,317.18 564.05,327.95 564.44,338.72 564.83,347.86 565.21,353.96 565.60,356.10 565.96,354.81 566.32,351.07 566.68,345.24 567.04,337.89 567.40,329.75 567.76,321.61 568.12,314.26 568.48,308.43 568.84,304.69 569.20,303.40 569.57,304.05 569.93,305.97 570.30,309.01 570.67,312.97 571.03,317.59 571.40,322.55 571.77,327.51 572.13,332.12 572.50,336.09 572.87,339.13 573.23,341.05 573.60,341.70 573.96,341.55 574.32,341.09 574.68,340.33 575.04,339.30 575.40,338.02 575.76,336.53 576.12,334.85 576.48,333.03 576.84,331.11 577.20,329.15 577.56,327.19 577.92,325.27 578.28,323.45 578.64,321.77 579.00,320.28 579.36,319.00 579.72,317.97 580.08,317.21 580.44,316.75 580.80,316.60 581.17,317.23 581.55,319.07 581.92,321.97 582.29,325.69 582.66,329.94 583.04,334.36 583.41,338.61 583.78,342.33 584.15,345.23 584.53,347.07 584.90,347.70 585.29,346.20 585.67,341.92 586.06,335.51 586.45,327.95 586.84,320.39 587.23,313.98 587.61,309.70 588.00,308.20 588.36,308.76 588.73,310.39 589.09,312.96 589.45,316.27 589.82,320.04 590.18,323.96 590.55,327.73 590.91,331.04 591.27,333.61 591.64,335.24 592.00,335.80 592.40,335.11 592.80,333.31 593.20,331.09 593.60,329.29 594.00,328.60 594.38,328.95 594.75,329.80 595.12,330.65 595.50,331.00 595.90,329.99 596.30,327.16 596.70,323.07 597.10,318.53 597.50,314.44 597.90,311.61 598.30,310.60 598.67,311.28 599.05,313.26 599.42,316.38 599.79,320.39 600.16,324.97 600.54,329.73 600.91,334.31 601.28,338.32 601.65,341.44 602.03,343.42 602.40,344.10 602.76,343.49 603.12,341.70 603.48,338.93 603.84,335.43 604.20,331.55 604.56,327.67 604.92,324.17 605.28,321.40 605.64,319.61 606.00,319.00 606.36,319.31 606.72,320.21 607.08,321.64 607.43,323.50 607.79,325.67 608.15,328.00 608.51,330.33 608.87,332.50 609.22,334.36 609.58,335.79 609.94,336.69 610.30,337.00 610.65,336.80 611.01,336.22 611.36,335.28 611.71,334.02 612.07,332.50 612.42,330.78 612.77,328.94 613.13,327.06 613.48,325.22 613.83,323.50 614.19,321.98 614.54,320.72 614.89,319.78 615.25,319.20 615.60,319.00 615.97,319.30 616.34,320.17 616.71,321.57 617.08,323.41 617.45,325.58 617.82,327.97 618.18,330.43 618.55,332.82 618.92,334.99 619.29,336.83 619.66,338.23 620.03,339.10 620.40,339.40 620.77,339.07 621.14,338.09 621.51,336.52 621.89,334.43 622.26,331.93 622.63,329.14 623.00,326.20 623.37,323.26 623.74,320.47 624.11,317.97 624.49,315.88 624.86,314.31 625.23,313.33 625.60,313.00 625.97,313.57 626.33,315.24 626.70,317.91 627.07,321.38 627.43,325.41 627.80,329.75 628.17,334.09 628.53,338.12 628.90,341.59 629.27,344.26 629.63,345.93 630.00,346.50 630.36,345.96 630.72,344.38 631.08,341.83 631.45,338.49 631.81,334.53 632.17,330.19 632.53,325.71 632.89,321.37 633.25,317.41 633.62,314.07 633.98,311.52 634.34,309.94 634.70,309.40 635.07,310.01 635.44,311.80 635.81,314.67 636.18,318.45 636.55,322.92 636.92,327.82 637.28,332.88 637.65,337.78 638.02,342.25 638.39,346.03 638.76,348.90 639.13,350.69 639.50,351.30 639.85,350.71 640.21,348.97 640.56,346.15 640.91,342.38 641.27,337.82 641.62,332.68 641.97,327.17 642.33,321.53 642.68,316.02 643.03,310.88 643.39,306.32 643.74,302.55 644.09,299.73 644.45,297.99 644.80,297.40 645.15,298.61 645.51,302.15 645.86,307.74 646.22,314.91 646.57,323.09 646.93,331.61 647.28,339.79 647.64,346.96 647.99,352.55 648.35,356.09 648.70,357.30 649.06,356.26 649.43,353.21 649.79,348.41 650.15,342.25 650.52,335.21 650.88,327.89 651.25,320.85 651.61,314.69 651.97,309.89 652.34,306.84 652.70,305.80 653.07,306.67 653.45,309.23 653.82,313.26 654.19,318.43 654.56,324.33 654.94,330.47 655.31,336.37 655.68,341.54 656.05,345.57 656.43,348.13 656.80,349.00 657.18,347.91 657.56,344.76 657.94,339.85 658.32,333.66 658.70,326.80 659.08,319.94 659.46,313.75 659.84,308.84 660.22,305.69 660.60,304.60 660.97,305.50 661.35,308.12 661.72,312.26 662.09,317.58 662.46,323.64 662.84,329.96 663.21,336.02 663.58,341.34 663.95,345.48 664.33,348.10 664.70,349.00 665.06,348.00 665.42,345.10 665.78,340.59 666.14,334.90 666.50,328.60 666.86,322.30 667.22,316.61 667.58,312.10 667.94,309.20 668.30,308.20 668.66,308.93 669.02,311.06 669.38,314.38 669.74,318.56 670.10,323.20 670.46,327.84 670.82,332.02 671.18,335.34 671.54,337.47 671.90,338.20 672.26,337.88 672.62,336.94 672.98,335.48 673.34,333.64 673.70,331.60 674.06,329.56 674.42,327.72 674.78,326.26 675.14,325.32 675.50,325.00 675.88,325.44 676.25,326.50 676.62,327.56 677.00,328.00 677.38,327.91 677.76,327.65 678.13,327.25 678.51,326.76 678.89,326.24 679.27,325.75 679.64,325.35 680.02,325.09 680.40,325.00" fill="none" stroke="#45b0e2" stroke-width="1.4"/></g>
<line x1="480.2" y1="20.5" x2="480.2" y2="120" stroke="#d6505b" stroke-width="1.5" stroke-dasharray="4.2 2.7"/>
<line x1="498.5" y1="20.5" x2="498.5" y2="120" stroke="#d6505b" stroke-width="1.5" stroke-dasharray="4.2 2.7"/>
<line x1="644" y1="149" x2="644" y2="247.6" stroke="#d6505b" stroke-width="1.5" stroke-dasharray="4.2 2.7"/>
<line x1="482.2" y1="278.3" x2="482.2" y2="377" stroke="#d6505b" stroke-width="1.5" stroke-dasharray="4.2 2.7"/>
<line x1="493.6" y1="278.3" x2="493.6" y2="377" stroke="#d6505b" stroke-width="1.5" stroke-dasharray="4.2 2.7"/>
<line x1="557.3" y1="278.3" x2="557.3" y2="377" stroke="#d6505b" stroke-width="1.5" stroke-dasharray="4.2 2.7"/>
<line x1="629.6" y1="278.3" x2="629.6" y2="377" stroke="#d6505b" stroke-width="1.5" stroke-dasharray="4.2 2.7"/>
<line x1="462.1" y1="278.3" x2="462.1" y2="377" stroke="#444" stroke-width="0.9" stroke-dasharray="4 2.7"/>
<line x1="383.4" y1="19.9" x2="680.4" y2="19.9" stroke="#c0c0c0" stroke-width="1.5"/>
<line x1="383.7" y1="19.299999999999997" x2="383.7" y2="120.9" stroke="#bdbdbd" stroke-width="1.8"/>
<line x1="680.4" y1="19.299999999999997" x2="680.4" y2="120.9" stroke="#8a8a8a" stroke-width="1.1"/>
<line x1="382.8" y1="120.4" x2="680.9" y2="120.4" stroke="#777" stroke-width="1.1"/>
<line x1="383.4" y1="148.4" x2="680.4" y2="148.4" stroke="#c0c0c0" stroke-width="1.5"/>
<line x1="383.7" y1="147.8" x2="383.7" y2="248.6" stroke="#bdbdbd" stroke-width="1.8"/>
<line x1="680.4" y1="147.8" x2="680.4" y2="248.6" stroke="#8a8a8a" stroke-width="1.1"/>
<line x1="382.8" y1="248.1" x2="680.9" y2="248.1" stroke="#777" stroke-width="1.1"/>
<line x1="383.4" y1="277.8" x2="680.4" y2="277.8" stroke="#c0c0c0" stroke-width="1.5"/>
<line x1="383.7" y1="277.2" x2="383.7" y2="377.8" stroke="#bdbdbd" stroke-width="1.8"/>
<line x1="680.4" y1="277.2" x2="680.4" y2="377.8" stroke="#8a8a8a" stroke-width="1.1"/>
<line x1="382.8" y1="377.3" x2="680.9" y2="377.3" stroke="#777" stroke-width="1.1"/>
<text x="389.86" y="35.70" font-size="9.64" font-weight="normal" fill="#333" stroke="#333" stroke-width="0.17" textLength="16.87" lengthAdjust="spacingAndGlyphs">YKA</text>
<text x="453.41" y="32.00" font-size="8.38" font-weight="normal" fill="#333" stroke="#333" stroke-width="0.15" textLength="24.59" lengthAdjust="spacingAndGlyphs">PKIKP</text>
<text x="441.01" y="89.50" font-size="8.24" font-weight="normal" fill="#333" stroke="#333" stroke-width="0.15" textLength="5.08" lengthAdjust="spacingAndGlyphs">P</text>
<text x="446.28" y="93.20" font-size="6.42" font-weight="normal" fill="#333" stroke="#333" stroke-width="0.12" textLength="29.25" lengthAdjust="spacingAndGlyphs">CMB_scat</text>
<text x="504.10" y="115.80" font-size="8.66" font-weight="normal" fill="#333" stroke="#333" stroke-width="0.16" textLength="25.11" lengthAdjust="spacingAndGlyphs">PKiKP</text>
<text x="389.87" y="163.40" font-size="9.50" font-weight="normal" fill="#333" stroke="#333" stroke-width="0.17" textLength="18.66" lengthAdjust="spacingAndGlyphs">ILAR</text>
<text x="487.43" y="181.10" font-size="7.68" font-weight="normal" fill="#333" stroke="#333" stroke-width="0.14" textLength="21.14" lengthAdjust="spacingAndGlyphs">PKIKP</text>
<text x="623.11" y="158.10" font-size="8.38" font-weight="normal" fill="#333" stroke="#333" stroke-width="0.15" textLength="18.19" lengthAdjust="spacingAndGlyphs">PKP1</text>
<text x="389.89" y="292.40" font-size="8.94" font-weight="normal" fill="#333" stroke="#333" stroke-width="0.16" textLength="18.73" lengthAdjust="spacingAndGlyphs">ILAR</text>
<text x="389.44" y="310.60" font-size="7.54" font-weight="normal" fill="#333" stroke="#333" stroke-width="0.14" textLength="21.43" lengthAdjust="spacingAndGlyphs">PKIKP</text>
<text x="389.43" y="357.30" font-size="7.68" font-weight="normal" fill="#333" stroke="#333" stroke-width="0.14" textLength="26.94" lengthAdjust="spacingAndGlyphs">Amp×8</text>
<text x="456.61" y="285.90" font-size="8.24" font-weight="normal" fill="#333" stroke="#333" stroke-width="0.15" textLength="17.28" lengthAdjust="spacingAndGlyphs">PKP1</text>
<text x="497.54" y="375.80" font-size="7.54" font-weight="normal" fill="#333" stroke="#333" stroke-width="0.14" textLength="22.13" lengthAdjust="spacingAndGlyphs">PKiKP</text>
<text x="560.92" y="376.00" font-size="7.96" font-weight="normal" fill="#333" stroke="#333" stroke-width="0.14" textLength="18.36" lengthAdjust="spacingAndGlyphs">PKP2</text>
<text x="634.93" y="288.50" font-size="7.68" font-weight="normal" fill="#333" stroke="#333" stroke-width="0.14" textLength="27.14" lengthAdjust="spacingAndGlyphs">pPKIKP</text>
<text x="515.60" y="409.00" font-size="8.66" font-weight="normal" fill="#333" stroke="#333" stroke-width="0.16" textLength="33.91" lengthAdjust="spacingAndGlyphs">Time (s)</text>
</svg></body></html>
